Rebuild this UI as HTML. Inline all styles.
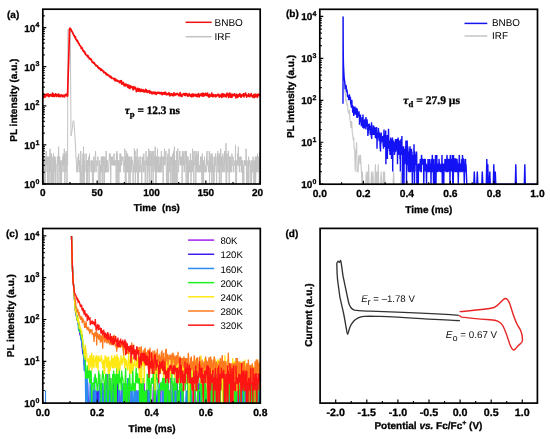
<!DOCTYPE html>
<html><head><meta charset="utf-8"><title>Figure</title>
<style>html,body{margin:0;padding:0;background:#fff;}body{width:550px;height:439px;overflow:hidden;}svg{display:block;}text[font-weight="bold"]{stroke:#000;stroke-width:0.3px;}</style>
</head><body><svg width="550" height="439" viewBox="0 0 550 439" text-rendering="geometricPrecision"><clipPath id="ca"><rect x="42.8" y="9.2" width="217.39999999999998" height="174.8"/></clipPath><path clip-path="url(#ca)" d="M42.8 160.5L43.0 184.0L43.3 160.5L43.5 165.3L43.7 156.7L43.9 184.0L44.2 184.0L44.4 156.7L44.6 184.0L44.9 172.2L45.1 184.0L45.3 165.3L45.5 160.5L45.8 156.7L46.0 172.2L46.2 151.0L46.5 165.3L46.7 156.7L46.9 156.7L47.1 165.3L47.4 156.7L47.6 184.0L47.8 160.5L48.1 184.0L48.3 160.5L48.5 156.7L48.7 160.5L49.0 160.5L49.2 184.0L49.4 156.7L49.6 172.2L49.9 156.7L50.1 148.7L50.3 172.2L50.6 153.6L50.8 165.3L51.0 184.0L51.2 160.5L51.5 153.6L51.7 184.0L51.9 160.5L52.2 156.7L52.4 184.0L52.6 184.0L52.8 172.2L53.1 184.0L53.3 165.3L53.5 153.6L53.8 184.0L54.0 165.3L54.2 172.2L54.4 156.7L54.7 156.7L54.9 165.3L55.1 156.7L55.4 184.0L55.6 160.5L55.8 165.3L56.0 165.3L56.3 165.3L56.5 165.3L56.7 165.3L57.0 172.2L57.2 184.0L57.4 156.7L57.6 160.5L57.9 156.7L58.1 165.3L58.3 160.5L58.6 146.7L58.8 156.7L59.0 184.0L59.2 156.7L59.5 160.5L59.7 156.7L59.9 172.2L60.1 160.5L60.4 165.3L60.6 184.0L60.8 165.3L61.1 160.5L61.3 172.2L61.5 184.0L61.7 172.2L62.0 160.5L62.2 160.5L62.4 160.5L62.7 165.3L62.9 156.7L63.1 172.2L63.3 153.6L63.6 160.5L63.8 160.5L64.0 165.3L64.3 148.7L64.5 156.7L64.7 172.2L64.9 184.0L65.2 153.6L65.4 165.3L65.6 165.3L65.9 172.2L66.1 156.7L66.3 151.0L66.5 156.7L66.8 156.7L67.0 184.0L67.2 153.6L67.6 165.3L67.9 29.4L70.3 29.4L71.0 135.9L71.9 131.5L73.2 120.5L73.9 121.4L74.9 134.9L75.8 153.6L76.9 172.2L77.4 165.3L77.6 172.2L77.8 160.5L78.0 156.7L78.3 165.3L78.5 165.3L78.7 153.6L79.0 165.3L79.2 172.2L79.4 172.2L79.6 160.5L79.9 160.5L80.1 165.3L80.3 184.0L80.6 165.3L80.8 151.0L81.0 165.3L81.2 165.3L81.5 184.0L81.7 172.2L81.9 184.0L82.1 184.0L82.4 172.2L82.6 160.5L82.8 156.7L83.1 153.6L83.3 184.0L83.5 146.7L83.7 184.0L84.0 153.6L84.2 184.0L84.4 160.5L84.7 165.3L84.9 172.2L85.1 165.3L85.3 165.3L85.6 165.3L85.8 165.3L86.0 153.6L86.3 153.6L86.5 184.0L86.7 160.5L86.9 160.5L87.2 184.0L87.4 172.2L87.6 160.5L87.9 172.2L88.1 160.5L88.3 165.3L88.5 165.3L88.8 156.7L89.0 184.0L89.2 184.0L89.5 153.6L89.7 160.5L89.9 160.5L90.1 160.5L90.4 165.3L90.6 165.3L90.8 165.3L91.1 172.2L91.3 172.2L91.5 160.5L91.7 165.3L92.0 165.3L92.2 160.5L92.4 184.0L92.6 184.0L92.9 184.0L93.1 165.3L93.3 184.0L93.6 160.5L93.8 156.7L94.0 160.5L94.2 160.5L94.5 172.2L94.7 172.2L94.9 165.3L95.2 156.7L95.4 153.6L95.6 151.0L95.8 165.3L96.1 172.2L96.3 165.3L96.5 165.3L96.8 165.3L97.0 160.5L97.2 165.3L97.4 160.5L97.7 165.3L97.9 156.7L98.1 160.5L98.4 184.0L98.6 184.0L98.8 184.0L99.0 184.0L99.3 184.0L99.5 160.5L99.7 160.5L100.0 184.0L100.2 184.0L100.4 172.2L100.6 165.3L100.9 165.3L101.1 172.2L101.3 156.7L101.6 172.2L101.8 156.7L102.0 156.7L102.2 184.0L102.5 165.3L102.7 156.7L102.9 184.0L103.2 172.2L103.4 156.7L103.6 165.3L103.8 160.5L104.1 156.7L104.3 172.2L104.5 184.0L104.7 165.3L105.0 156.7L105.2 156.7L105.4 172.2L105.7 160.5L105.9 172.2L106.1 151.0L106.3 156.7L106.6 172.2L106.8 165.3L107.0 172.2L107.3 165.3L107.5 160.5L107.7 160.5L107.9 165.3L108.2 172.2L108.4 172.2L108.6 172.2L108.9 165.3L109.1 160.5L109.3 156.7L109.5 153.6L109.8 160.5L110.0 160.5L110.2 153.6L110.5 165.3L110.7 184.0L110.9 172.2L111.1 156.7L111.4 160.5L111.6 160.5L111.8 165.3L112.1 156.7L112.3 160.5L112.5 156.7L112.7 165.3L113.0 165.3L113.2 165.3L113.4 160.5L113.7 165.3L113.9 156.7L114.1 153.6L114.3 165.3L114.6 160.5L114.8 160.5L115.0 165.3L115.2 165.3L115.5 160.5L115.7 160.5L115.9 160.5L116.2 184.0L116.4 153.6L116.6 165.3L116.8 151.0L117.1 160.5L117.3 153.6L117.5 172.2L117.8 184.0L118.0 160.5L118.2 172.2L118.4 160.5L118.7 172.2L118.9 184.0L119.1 160.5L119.4 165.3L119.6 172.2L119.8 165.3L120.0 153.6L120.3 165.3L120.5 172.2L120.7 153.6L121.0 156.7L121.2 156.7L121.4 165.3L121.6 156.7L121.9 160.5L122.1 160.5L122.3 160.5L122.6 160.5L122.8 156.7L123.0 156.7L123.2 165.3L123.5 165.3L123.7 165.3L123.9 172.2L124.2 160.5L124.4 165.3L124.6 165.3L124.8 148.7L125.1 160.5L125.3 184.0L125.5 156.7L125.7 165.3L126.0 184.0L126.2 151.0L126.4 151.0L126.7 172.2L126.9 156.7L127.1 165.3L127.3 172.2L127.6 153.6L127.8 172.2L128.0 160.5L128.3 156.7L128.5 172.2L128.7 156.7L128.9 184.0L129.2 165.3L129.4 172.2L129.6 156.7L129.9 160.5L130.1 184.0L130.3 160.5L130.5 160.5L130.8 172.2L131.0 156.7L131.2 172.2L131.5 165.3L131.7 156.7L131.9 160.5L132.1 160.5L132.4 165.3L132.6 160.5L132.8 160.5L133.1 184.0L133.3 172.2L133.5 165.3L133.7 165.3L134.0 172.2L134.2 165.3L134.4 148.7L134.7 165.3L134.9 172.2L135.1 151.0L135.3 184.0L135.6 172.2L135.8 165.3L136.0 156.7L136.2 160.5L136.5 172.2L136.7 165.3L136.9 160.5L137.2 148.7L137.4 172.2L137.6 184.0L137.8 184.0L138.1 160.5L138.3 184.0L138.5 172.2L138.8 172.2L139.0 156.7L139.2 165.3L139.4 165.3L139.7 172.2L139.9 172.2L140.1 172.2L140.4 160.5L140.6 160.5L140.8 156.7L141.0 165.3L141.3 172.2L141.5 165.3L141.7 184.0L142.0 165.3L142.2 165.3L142.4 165.3L142.6 156.7L142.9 165.3L143.1 172.2L143.3 172.2L143.6 165.3L143.8 153.6L144.0 172.2L144.2 165.3L144.5 165.3L144.7 165.3L144.9 160.5L145.2 184.0L145.4 184.0L145.6 172.2L145.8 165.3L146.1 151.0L146.3 165.3L146.5 160.5L146.7 165.3L147.0 160.5L147.2 184.0L147.4 172.2L147.7 156.7L147.9 172.2L148.1 160.5L148.3 165.3L148.6 153.6L148.8 148.7L149.0 172.2L149.3 184.0L149.5 153.6L149.7 151.0L149.9 156.7L150.2 165.3L150.4 160.5L150.6 165.3L150.9 151.0L151.1 184.0L151.3 172.2L151.5 160.5L151.8 153.6L152.0 172.2L152.2 151.0L152.5 153.6L152.7 156.7L152.9 156.7L153.1 184.0L153.4 160.5L153.6 156.7L153.8 151.0L154.1 165.3L154.3 160.5L154.5 156.7L154.7 165.3L155.0 172.2L155.2 146.7L155.4 153.6L155.7 184.0L155.9 172.2L156.1 184.0L156.3 156.7L156.6 172.2L156.8 156.7L157.0 165.3L157.3 160.5L157.5 148.7L157.7 172.2L157.9 172.2L158.2 172.2L158.4 160.5L158.6 172.2L158.8 156.7L159.1 172.2L159.3 172.2L159.5 165.3L159.8 165.3L160.0 172.2L160.2 156.7L160.4 172.2L160.7 172.2L160.9 160.5L161.1 165.3L161.4 151.0L161.6 165.3L161.8 172.2L162.0 160.5L162.3 156.7L162.5 156.7L162.7 160.5L163.0 172.2L163.2 184.0L163.4 160.5L163.6 156.7L163.9 165.3L164.1 165.3L164.3 153.6L164.6 148.7L164.8 165.3L165.0 160.5L165.2 160.5L165.5 160.5L165.7 156.7L165.9 151.0L166.2 165.3L166.4 172.2L166.6 184.0L166.8 172.2L167.1 172.2L167.3 156.7L167.5 160.5L167.8 184.0L168.0 153.6L168.2 172.2L168.4 184.0L168.7 184.0L168.9 160.5L169.1 148.7L169.3 156.7L169.6 172.2L169.8 172.2L170.0 172.2L170.3 156.7L170.5 160.5L170.7 165.3L170.9 184.0L171.2 165.3L171.4 165.3L171.6 156.7L171.9 156.7L172.1 160.5L172.3 184.0L172.5 165.3L172.8 153.6L173.0 172.2L173.2 184.0L173.5 165.3L173.7 151.0L173.9 172.2L174.1 172.2L174.4 146.7L174.6 184.0L174.8 172.2L175.1 184.0L175.3 172.2L175.5 160.5L175.7 165.3L176.0 160.5L176.2 184.0L176.4 156.7L176.7 151.0L176.9 160.5L177.1 184.0L177.3 160.5L177.6 160.5L177.8 148.7L178.0 160.5L178.3 160.5L178.5 172.2L178.7 165.3L178.9 165.3L179.2 160.5L179.4 160.5L179.6 153.6L179.8 151.0L180.1 156.7L180.3 165.3L180.5 165.3L180.8 156.7L181.0 160.5L181.2 160.5L181.4 165.3L181.7 156.7L181.9 156.7L182.1 184.0L182.4 151.0L182.6 165.3L182.8 153.6L183.0 156.7L183.3 153.6L183.5 165.3L183.7 165.3L184.0 151.0L184.2 172.2L184.4 165.3L184.6 160.5L184.9 160.5L185.1 160.5L185.3 151.0L185.6 160.5L185.8 165.3L186.0 172.2L186.2 184.0L186.5 151.0L186.7 160.5L186.9 172.2L187.2 156.7L187.4 160.5L187.6 184.0L187.8 156.7L188.1 156.7L188.3 184.0L188.5 172.2L188.8 165.3L189.0 172.2L189.2 160.5L189.4 165.3L189.7 172.2L189.9 160.5L190.1 172.2L190.3 153.6L190.6 153.6L190.8 165.3L191.0 184.0L191.3 165.3L191.5 160.5L191.7 165.3L191.9 172.2L192.2 160.5L192.4 160.5L192.6 148.7L192.9 172.2L193.1 151.0L193.3 165.3L193.5 160.5L193.8 184.0L194.0 165.3L194.2 165.3L194.5 165.3L194.7 160.5L194.9 151.0L195.1 160.5L195.4 156.7L195.6 165.3L195.8 184.0L196.1 165.3L196.3 151.0L196.5 165.3L196.7 165.3L197.0 172.2L197.2 153.6L197.4 156.7L197.7 172.2L197.9 156.7L198.1 156.7L198.3 151.0L198.6 160.5L198.8 172.2L199.0 165.3L199.3 165.3L199.5 172.2L199.7 165.3L199.9 172.2L200.2 165.3L200.4 160.5L200.6 156.7L200.8 172.2L201.1 165.3L201.3 156.7L201.5 160.5L201.8 165.3L202.0 184.0L202.2 156.7L202.4 153.6L202.7 184.0L202.9 165.3L203.1 172.2L203.4 160.5L203.6 184.0L203.8 165.3L204.0 172.2L204.3 165.3L204.5 156.7L204.7 160.5L205.0 165.3L205.2 172.2L205.4 172.2L205.6 172.2L205.9 165.3L206.1 172.2L206.3 165.3L206.6 156.7L206.8 160.5L207.0 151.0L207.2 165.3L207.5 165.3L207.7 160.5L207.9 160.5L208.2 160.5L208.4 172.2L208.6 172.2L208.8 165.3L209.1 165.3L209.3 151.0L209.5 184.0L209.8 160.5L210.0 160.5L210.2 160.5L210.4 156.7L210.7 172.2L210.9 153.6L211.1 153.6L211.4 165.3L211.6 172.2L211.8 184.0L212.0 153.6L212.3 172.2L212.5 160.5L212.7 165.3L212.9 156.7L213.2 184.0L213.4 165.3L213.6 165.3L213.9 184.0L214.1 184.0L214.3 172.2L214.5 172.2L214.8 156.7L215.0 165.3L215.2 160.5L215.5 165.3L215.7 153.6L215.9 165.3L216.1 172.2L216.4 172.2L216.6 184.0L216.8 165.3L217.1 156.7L217.3 156.7L217.5 165.3L217.7 151.0L218.0 172.2L218.2 156.7L218.4 156.7L218.7 172.2L218.9 172.2L219.1 153.6L219.3 184.0L219.6 172.2L219.8 153.6L220.0 172.2L220.3 160.5L220.5 165.3L220.7 148.7L220.9 184.0L221.2 184.0L221.4 165.3L221.6 156.7L221.9 165.3L222.1 160.5L222.3 156.7L222.5 172.2L222.8 153.6L223.0 160.5L223.2 172.2L223.4 165.3L223.7 165.3L223.9 160.5L224.1 156.7L224.4 165.3L224.6 151.0L224.8 172.2L225.0 165.3L225.3 151.0L225.5 160.5L225.7 156.7L226.0 143.3L226.2 184.0L226.4 156.7L226.6 184.0L226.9 156.7L227.1 153.6L227.3 160.5L227.6 172.2L227.8 172.2L228.0 172.2L228.2 151.0L228.5 151.0L228.7 160.5L228.9 165.3L229.2 184.0L229.4 156.7L229.6 165.3L229.8 165.3L230.1 172.2L230.3 156.7L230.5 172.2L230.8 160.5L231.0 165.3L231.2 172.2L231.4 165.3L231.7 165.3L231.9 153.6L232.1 160.5L232.4 165.3L232.6 165.3L232.8 165.3L233.0 156.7L233.3 172.2L233.5 165.3L233.7 165.3L233.9 165.3L234.2 165.3L234.4 165.3L234.6 165.3L234.9 160.5L235.1 160.5L235.3 172.2L235.5 144.9L235.8 184.0L236.0 160.5L236.2 172.2L236.5 184.0L236.7 172.2L236.9 165.3L237.1 160.5L237.4 165.3L237.6 153.6L237.8 156.7L238.1 165.3L238.3 146.7L238.5 156.7L238.7 165.3L239.0 160.5L239.2 165.3L239.4 172.2L239.7 156.7L239.9 160.5L240.1 160.5L240.3 165.3L240.6 156.7L240.8 165.3L241.0 156.7L241.3 172.2L241.5 165.3L241.7 172.2L241.9 160.5L242.2 172.2L242.4 160.5L242.6 184.0L242.9 172.2L243.1 165.3L243.3 172.2L243.5 165.3L243.8 184.0L244.0 160.5L244.2 160.5L244.4 160.5L244.7 165.3L244.9 160.5L245.1 165.3L245.4 165.3L245.6 160.5L245.8 165.3L246.0 148.7L246.3 151.0L246.5 184.0L246.7 172.2L247.0 160.5L247.2 160.5L247.4 165.3L247.6 165.3L247.9 184.0L248.1 172.2L248.3 184.0L248.6 156.7L248.8 160.5L249.0 160.5L249.2 160.5L249.5 165.3L249.7 160.5L249.9 165.3L250.2 184.0L250.4 165.3L250.6 172.2L250.8 172.2L251.1 160.5L251.3 160.5L251.5 184.0L251.8 172.2L252.0 172.2L252.2 160.5L252.4 172.2L252.7 172.2L252.9 165.3L253.1 156.7L253.4 160.5L253.6 165.3L253.8 184.0L254.0 184.0L254.3 165.3L254.5 184.0L254.7 160.5L254.9 184.0L255.2 165.3L255.4 156.7L255.6 184.0L255.9 172.2L256.1 156.7L256.3 165.3L256.5 172.2L256.8 156.7L257.0 160.5L257.2 165.3L257.5 153.6L257.7 160.5L257.9 172.2L258.1 156.7L258.4 165.3L258.6 172.2L258.8 160.5L259.1 156.7L259.3 184.0L259.5 160.5L259.7 165.3L260.0 151.0L260.2 165.3L260.4 165.3L260.7 172.2" stroke="#c2c2c2" stroke-width="1.0" fill="none" stroke-linejoin="miter"/><path clip-path="url(#ca)" d="M42.8 94.7L43.1 95.6L43.5 97.6L43.8 94.7L44.1 94.6L44.4 96.2L44.8 97.2L45.1 96.4L45.4 94.5L45.7 96.4L46.1 95.8L46.4 95.1L46.7 94.2L47.0 95.4L47.4 95.4L47.7 95.9L48.0 93.8L48.3 94.4L48.7 95.4L49.0 96.7L49.3 96.1L49.6 94.8L50.0 96.0L50.3 94.5L50.6 95.0L51.0 95.1L51.3 94.7L51.6 94.9L51.9 96.2L52.3 95.7L52.6 93.2L52.9 96.5L53.2 95.8L53.6 94.4L53.9 95.5L54.2 96.1L54.5 96.6L54.9 94.9L55.2 94.4L55.5 94.0L55.8 95.3L56.2 94.4L56.5 96.3L56.8 95.2L57.1 96.0L57.5 95.2L57.8 94.6L58.1 94.3L58.5 96.3L58.8 94.2L59.1 95.8L59.4 96.3L59.8 95.5L60.1 96.7L60.4 95.3L60.7 95.1L61.1 95.5L61.4 94.9L61.7 95.6L62.0 95.3L62.4 96.7L62.7 95.3L63.0 96.2L63.3 95.8L63.7 95.4L64.0 95.2L64.3 96.9L64.6 96.8L65.0 95.6L65.3 94.9L65.6 95.0L66.0 94.5L66.3 94.1L66.6 94.9L66.9 95.4L67.3 96.3L67.6 95.4L67.9 84.5L68.2 73.6L68.6 62.8L68.9 51.9L69.2 41.0L69.5 30.2L69.9 28.2L70.2 28.5L70.5 28.9L70.8 29.2L71.2 29.9L71.5 30.6L71.8 31.3L72.1 31.6L72.5 32.4L72.8 33.0L73.1 33.6L73.5 34.6L73.8 35.5L74.1 35.4L74.4 36.0L74.8 36.9L75.1 37.6L75.4 36.9L75.7 38.9L76.1 39.2L76.4 39.5L76.7 40.8L77.0 40.7L77.4 40.5L77.7 41.5L78.0 42.1L78.3 42.7L78.7 43.5L79.0 43.6L79.3 44.6L79.6 45.3L80.0 45.5L80.3 45.7L80.6 46.4L81.0 46.8L81.3 48.5L81.6 47.5L81.9 47.5L82.3 48.4L82.6 49.7L82.9 50.4L83.2 50.3L83.6 51.4L83.9 51.0L84.2 52.1L84.5 51.8L84.9 52.1L85.2 54.1L85.5 53.4L85.8 54.3L86.2 55.1L86.5 55.1L86.8 55.3L87.1 55.2L87.5 56.8L87.8 56.0L88.1 55.9L88.5 57.0L88.8 57.4L89.1 58.0L89.4 59.0L89.8 58.5L90.1 59.0L90.4 59.2L90.7 58.7L91.1 59.9L91.4 60.4L91.7 60.2L92.0 61.9L92.4 62.2L92.7 62.2L93.0 62.7L93.3 62.4L93.7 63.2L94.0 62.5L94.3 63.0L94.6 63.6L95.0 64.5L95.3 64.4L95.6 64.6L96.0 65.8L96.3 65.4L96.6 65.6L96.9 66.1L97.3 65.8L97.6 66.2L97.9 67.5L98.2 67.3L98.6 68.1L98.9 67.7L99.2 68.7L99.5 68.1L99.9 68.6L100.2 68.6L100.5 69.4L100.8 70.3L101.2 69.1L101.5 70.3L101.8 69.8L102.2 70.5L102.5 70.6L102.8 70.4L103.1 71.3L103.5 71.1L103.8 72.7L104.1 71.8L104.4 72.6L104.8 72.8L105.1 73.0L105.4 73.1L105.7 72.7L106.1 74.6L106.4 73.9L106.7 74.5L107.0 73.9L107.4 74.8L107.7 74.7L108.0 75.3L108.3 75.0L108.7 75.1L109.0 76.0L109.3 76.0L109.7 76.9L110.0 76.3L110.3 76.2L110.6 77.1L111.0 76.5L111.3 78.2L111.6 78.3L111.9 78.3L112.3 78.1L112.6 78.1L112.9 78.3L113.2 78.5L113.6 78.3L113.9 79.1L114.2 79.7L114.5 79.9L114.9 78.5L115.2 80.8L115.5 79.9L115.8 79.3L116.2 80.0L116.5 80.8L116.8 80.6L117.2 80.3L117.5 80.4L117.8 81.5L118.1 80.9L118.5 81.3L118.8 81.1L119.1 81.1L119.4 82.1L119.8 82.8L120.1 81.9L120.4 80.8L120.7 82.0L121.1 82.6L121.4 80.7L121.7 84.1L122.0 82.4L122.4 83.9L122.7 83.5L123.0 83.6L123.3 82.4L123.7 84.9L124.0 84.7L124.3 85.8L124.7 84.0L125.0 85.0L125.3 84.3L125.6 85.9L126.0 85.4L126.3 84.2L126.6 85.5L126.9 84.8L127.3 85.1L127.6 86.0L127.9 87.3L128.2 85.0L128.6 85.9L128.9 85.3L129.2 88.2L129.5 88.0L129.9 88.6L130.2 87.5L130.5 85.9L130.8 86.4L131.2 87.1L131.5 87.1L131.8 86.6L132.2 87.7L132.5 87.2L132.8 87.5L133.1 89.8L133.5 88.2L133.8 86.7L134.1 88.4L134.4 88.3L134.8 88.8L135.1 88.8L135.4 87.4L135.7 88.8L136.1 89.6L136.4 91.7L136.7 89.4L137.0 90.8L137.4 90.8L137.7 88.4L138.0 88.6L138.3 91.1L138.7 88.6L139.0 89.1L139.3 90.3L139.7 89.0L140.0 91.3L140.3 91.0L140.6 91.3L141.0 91.1L141.3 89.3L141.6 91.4L141.9 91.3L142.3 91.2L142.6 90.2L142.9 90.8L143.2 89.7L143.6 91.3L143.9 91.9L144.2 91.2L144.5 90.8L144.9 91.8L145.2 90.7L145.5 89.4L145.8 91.7L146.2 91.1L146.5 90.0L146.8 91.9L147.2 92.2L147.5 92.5L147.8 91.1L148.1 91.1L148.5 91.8L148.8 91.7L149.1 90.6L149.4 91.0L149.8 93.2L150.1 91.9L150.4 91.9L150.7 91.4L151.1 92.3L151.4 92.7L151.7 92.6L152.0 93.9L152.4 92.3L152.7 92.9L153.0 92.0L153.3 93.4L153.7 92.9L154.0 93.5L154.3 93.6L154.7 92.0L155.0 93.1L155.3 92.3L155.6 93.8L156.0 92.7L156.3 94.4L156.6 93.3L156.9 93.4L157.3 92.4L157.6 92.8L157.9 93.2L158.2 92.3L158.6 93.0L158.9 92.7L159.2 92.5L159.5 93.3L159.9 93.6L160.2 93.0L160.5 93.7L160.8 93.0L161.2 92.4L161.5 92.6L161.8 93.8L162.2 94.7L162.5 93.6L162.8 93.7L163.1 92.6L163.5 94.0L163.8 93.9L164.1 93.0L164.4 94.2L164.8 93.9L165.1 92.2L165.4 92.4L165.7 93.2L166.1 93.6L166.4 94.8L166.7 93.4L167.0 93.9L167.4 93.8L167.7 94.5L168.0 94.0L168.3 94.2L168.7 93.8L169.0 92.7L169.3 93.8L169.7 95.7L170.0 95.1L170.3 95.6L170.6 94.9L171.0 93.7L171.3 93.9L171.6 94.8L171.9 94.0L172.3 95.0L172.6 95.6L172.9 95.6L173.2 95.1L173.6 93.0L173.9 95.6L174.2 93.2L174.5 93.2L174.9 94.6L175.2 94.5L175.5 95.0L175.8 94.5L176.2 93.9L176.5 94.5L176.8 93.6L177.2 93.4L177.5 94.2L177.8 94.3L178.1 94.6L178.5 94.3L178.8 95.7L179.1 94.2L179.4 94.4L179.8 95.5L180.1 92.6L180.4 95.6L180.7 95.5L181.1 94.4L181.4 96.5L181.7 95.5L182.0 96.2L182.4 95.7L182.7 94.9L183.0 94.5L183.3 93.7L183.7 94.0L184.0 93.7L184.3 94.3L184.7 95.3L185.0 93.8L185.3 95.3L185.6 95.4L186.0 93.4L186.3 94.1L186.6 94.7L186.9 94.2L187.3 94.1L187.6 96.2L187.9 95.0L188.2 96.0L188.6 94.8L188.9 95.6L189.2 93.7L189.5 94.5L189.9 95.7L190.2 95.0L190.5 96.1L190.8 95.0L191.2 94.5L191.5 94.8L191.8 96.8L192.2 95.3L192.5 94.5L192.8 94.7L193.1 94.0L193.5 96.3L193.8 94.6L194.1 95.7L194.4 94.9L194.8 94.7L195.1 94.4L195.4 95.6L195.7 94.9L196.1 96.2L196.4 96.4L196.7 94.6L197.0 95.2L197.4 96.6L197.7 95.9L198.0 95.1L198.3 93.7L198.7 94.2L199.0 94.4L199.3 96.8L199.7 95.2L200.0 94.7L200.3 94.8L200.6 94.8L201.0 95.4L201.3 93.5L201.6 93.8L201.9 95.3L202.3 96.1L202.6 93.3L202.9 95.7L203.2 94.1L203.6 93.4L203.9 96.1L204.2 94.9L204.5 95.5L204.9 94.7L205.2 94.9L205.5 93.4L205.8 94.7L206.2 95.2L206.5 94.2L206.8 95.5L207.2 95.6L207.5 93.1L207.8 96.0L208.1 95.7L208.5 95.2L208.8 96.2L209.1 97.2L209.4 94.3L209.8 96.0L210.1 95.8L210.4 95.6L210.7 96.2L211.1 96.3L211.4 95.1L211.7 93.0L212.0 94.6L212.4 94.6L212.7 96.7L213.0 95.3L213.4 96.4L213.7 94.6L214.0 95.5L214.3 95.3L214.7 95.4L215.0 95.8L215.3 96.7L215.6 94.8L216.0 96.6L216.3 96.4L216.6 95.6L216.9 96.0L217.3 95.1L217.6 94.4L217.9 95.1L218.2 95.1L218.6 95.3L218.9 94.5L219.2 97.1L219.5 95.0L219.9 96.2L220.2 96.5L220.5 95.3L220.9 95.7L221.2 94.8L221.5 94.3L221.8 97.5L222.2 95.4L222.5 93.5L222.8 94.5L223.1 94.0L223.5 95.2L223.8 96.7L224.1 96.4L224.4 94.7L224.8 94.4L225.1 96.0L225.4 95.6L225.7 95.1L226.1 97.0L226.4 95.7L226.7 93.8L227.0 93.3L227.4 95.5L227.7 93.6L228.0 95.8L228.4 96.1L228.7 97.5L229.0 94.5L229.3 95.7L229.7 93.2L230.0 95.0L230.3 95.2L230.6 97.1L231.0 94.0L231.3 95.7L231.6 95.5L231.9 97.4L232.3 94.5L232.6 94.4L232.9 95.9L233.2 95.3L233.6 95.0L233.9 94.5L234.2 95.3L234.5 93.8L234.9 95.6L235.2 95.9L235.5 95.8L235.9 97.8L236.2 96.1L236.5 94.4L236.8 95.1L237.2 96.1L237.5 95.0L237.8 97.3L238.1 95.6L238.5 94.9L238.8 94.7L239.1 96.1L239.4 94.5L239.8 93.6L240.1 95.8L240.4 94.7L240.7 96.8L241.1 97.2L241.4 94.8L241.7 95.3L242.0 95.2L242.4 95.9L242.7 95.7L243.0 94.6L243.4 93.8L243.7 95.6L244.0 96.9L244.3 94.2L244.7 94.8L245.0 94.7L245.3 95.2L245.6 93.2L246.0 95.3L246.3 94.9L246.6 97.1L246.9 95.9L247.3 96.0L247.6 95.4L247.9 95.1L248.2 96.1L248.6 93.8L248.9 96.4L249.2 95.8L249.5 95.2L249.9 96.6L250.2 94.8L250.5 94.8L250.9 95.7L251.2 93.6L251.5 95.3L251.8 95.1L252.2 96.3L252.5 97.0L252.8 96.0L253.1 95.7L253.5 95.8L253.8 94.7L254.1 97.6L254.4 96.5L254.8 97.1L255.1 94.1L255.4 95.9L255.7 95.9L256.1 96.4L256.4 94.5L256.7 95.8L257.0 95.2L257.4 97.3L257.7 94.3L258.0 95.0L258.4 94.9L258.7 94.2L259.0 95.6L259.3 95.5L259.7 94.7L260.0 95.0" stroke="#f80c0c" stroke-width="1.7" fill="none" stroke-linejoin="round"/><rect x="42.8" y="9.2" width="217.39999999999998" height="174.8" fill="none" stroke="#000" stroke-width="1.7"/><path d="M42.80 184.0v-3.5M97.15 184.0v-3.5M151.50 184.0v-3.5M205.85 184.0v-3.5M260.20 184.0v-3.5M69.97 184.0v-2.0M124.32 184.0v-2.0M178.68 184.0v-2.0M233.02 184.0v-2.0" stroke="#000" stroke-width="1.2" fill="none"/><path d="M42.8 184.00h3.5M42.8 144.90h3.5M42.8 105.80h3.5M42.8 66.70h3.5M42.8 27.60h3.5M42.8 172.23h2.0M42.8 165.34h2.0M42.8 160.46h2.0M42.8 156.67h2.0M42.8 153.57h2.0M42.8 150.96h2.0M42.8 148.69h2.0M42.8 146.69h2.0M42.8 133.13h2.0M42.8 126.24h2.0M42.8 121.36h2.0M42.8 117.57h2.0M42.8 114.47h2.0M42.8 111.86h2.0M42.8 109.59h2.0M42.8 107.59h2.0M42.8 94.03h2.0M42.8 87.14h2.0M42.8 82.26h2.0M42.8 78.47h2.0M42.8 75.37h2.0M42.8 72.76h2.0M42.8 70.49h2.0M42.8 68.49h2.0M42.8 54.93h2.0M42.8 48.04h2.0M42.8 43.16h2.0M42.8 39.37h2.0M42.8 36.27h2.0M42.8 33.66h2.0M42.8 31.39h2.0M42.8 29.39h2.0M42.8 15.83h2.0" stroke="#000" stroke-width="1.2" fill="none"/><text x="42.80" y="195.60" font-family="'Liberation Sans', Arial, sans-serif" font-size="10" font-weight="bold" text-anchor="middle" fill="#000">0</text><text x="97.15" y="195.60" font-family="'Liberation Sans', Arial, sans-serif" font-size="10" font-weight="bold" text-anchor="middle" fill="#000">50</text><text x="151.50" y="195.60" font-family="'Liberation Sans', Arial, sans-serif" font-size="10" font-weight="bold" text-anchor="middle" fill="#000">100</text><text x="205.85" y="195.60" font-family="'Liberation Sans', Arial, sans-serif" font-size="10" font-weight="bold" text-anchor="middle" fill="#000">150</text><text x="257.60" y="195.60" font-family="'Liberation Sans', Arial, sans-serif" font-size="10" font-weight="bold" text-anchor="middle" fill="#000">20</text><text x="35.40" y="187.90" font-family="'Liberation Sans', Arial, sans-serif" font-size="10" font-weight="bold" text-anchor="end" fill="#000">10</text><text x="35.50" y="183.60" font-family="'Liberation Sans', Arial, sans-serif" font-size="7" font-weight="bold" text-anchor="start" fill="#000">0</text><text x="35.40" y="148.80" font-family="'Liberation Sans', Arial, sans-serif" font-size="10" font-weight="bold" text-anchor="end" fill="#000">10</text><text x="35.50" y="144.50" font-family="'Liberation Sans', Arial, sans-serif" font-size="7" font-weight="bold" text-anchor="start" fill="#000">1</text><text x="35.40" y="109.70" font-family="'Liberation Sans', Arial, sans-serif" font-size="10" font-weight="bold" text-anchor="end" fill="#000">10</text><text x="35.50" y="105.40" font-family="'Liberation Sans', Arial, sans-serif" font-size="7" font-weight="bold" text-anchor="start" fill="#000">2</text><text x="35.40" y="70.60" font-family="'Liberation Sans', Arial, sans-serif" font-size="10" font-weight="bold" text-anchor="end" fill="#000">10</text><text x="35.50" y="66.30" font-family="'Liberation Sans', Arial, sans-serif" font-size="7" font-weight="bold" text-anchor="start" fill="#000">3</text><text x="35.40" y="31.50" font-family="'Liberation Sans', Arial, sans-serif" font-size="10" font-weight="bold" text-anchor="end" fill="#000">10</text><text x="35.50" y="27.20" font-family="'Liberation Sans', Arial, sans-serif" font-size="7" font-weight="bold" text-anchor="start" fill="#000">4</text><text x="7.00" y="18.00" font-family="'Liberation Sans', Arial, sans-serif" font-size="10" font-weight="bold" text-anchor="start" fill="#000">(a)</text><text x="133.80" y="211.20" font-family="'Liberation Sans', Arial, sans-serif" font-size="9.8" font-weight="bold" text-anchor="start" fill="#000">Time&#160;&#160;(ns)</text><text transform="translate(17.1 100.2) rotate(-90)" font-family="'Liberation Sans', Arial, sans-serif" font-size="10" font-weight="bold" text-anchor="middle">PL intensity (a.u.)</text><path d="M185.5 22.3H211.7" stroke="#ee1111" stroke-width="1.5"/><path d="M185.5 36.7H211.7" stroke="#c3c3c3" stroke-width="1.5"/><text x="214.50" y="26.40" font-family="'Liberation Sans', Arial, sans-serif" font-size="10" font-weight="normal" text-anchor="start" fill="#000">BNBO</text><text x="214.50" y="40.30" font-family="'Liberation Sans', Arial, sans-serif" font-size="10" font-weight="normal" text-anchor="start" fill="#000">IRF</text><text x="124.8" y="114.2" font-family="'Liberation Serif', 'Times New Roman', serif" font-size="11.3" font-weight="bold"><tspan font-style="italic">τ</tspan><tspan font-size="8.6" dy="3.2">p</tspan><tspan dy="-3.2"> = 12.3 ns</tspan></text><clipPath id="cb"><rect x="319.8" y="9.3" width="217.7" height="174.89999999999998"/></clipPath><path clip-path="url(#cb)" d="M343.1 16.4L343.2 42.8L343.7 65.9L344.2 74.8L344.6 84.1L345.1 92.9L345.6 95.4L346.1 101.6L346.6 99.9L347.0 105.8L347.5 103.9L348.0 111.2L348.5 112.2L349.0 114.1L349.4 109.9L349.9 119.4L350.4 122.2L350.9 127.9L351.4 121.1L351.8 122.9L352.3 133.7L352.8 134.9L353.3 140.5L353.8 137.5L354.2 148.7L354.7 148.7L355.2 171.6L355.7 151.6L356.2 151.6L356.6 142.2L357.1 171.6L357.6 171.6L358.1 171.6L358.6 158.9L359.0 154.9L359.5 158.9L360.0 164.2L360.5 154.9L361.0 164.2L361.4 171.6L361.9 184.2L362.4 171.6L362.9 184.2L363.4 184.2L363.8 184.2L364.3 184.2L364.8 184.2L365.3 184.2L365.8 184.2L366.2 171.6L366.7 184.2L367.2 184.2L367.7 171.6L368.2 184.2L368.6 164.2L369.1 184.2L369.6 184.2L370.1 184.2L370.6 184.2L371.0 184.2L371.5 171.6L372.0 184.2L372.5 184.2L373.0 171.6L373.4 184.2L373.9 184.2L374.4 184.2L374.9 184.2L375.4 164.2L375.8 184.2L376.3 184.2L376.8 171.6L377.3 184.2L377.8 184.2L378.2 164.2L378.7 184.2L379.2 184.2L379.7 184.2L380.2 184.2L380.6 184.2L381.1 171.6L381.6 184.2L382.1 184.2L382.6 184.2L383.0 184.2L383.5 171.6L384.0 184.2L384.5 171.6L385.0 184.2L385.4 184.2L385.9 184.2L386.4 184.2L386.9 184.2L387.4 184.2L387.8 184.2L388.3 184.2L388.8 184.2L389.3 184.2L389.8 184.2L390.2 184.2L390.7 184.2L391.2 184.2L391.7 184.2L392.2 184.2L392.6 184.2L393.1 184.2L393.6 171.6L394.1 184.2L394.6 184.2L395.0 184.2L395.5 184.2L396.0 184.2L396.5 184.2L397.0 184.2L397.4 184.2L397.9 184.2L398.4 184.2L398.9 184.2L399.4 184.2L399.8 184.2L400.3 184.2L400.8 184.2L401.3 171.6L401.8 184.2L402.2 184.2L402.7 184.2L403.2 184.2L403.7 184.2L404.2 184.2L404.6 184.2L405.1 184.2L405.6 184.2L406.1 184.2L406.6 184.2L407.0 184.2L407.5 184.2L408.0 184.2L408.5 184.2L409.0 184.2L409.4 184.2L409.9 184.2L410.4 184.2L410.9 184.2L411.4 184.2L411.8 184.2L412.3 184.2L412.8 184.2L413.3 184.2L413.8 184.2L414.2 184.2L414.7 184.2L415.2 184.2L415.7 184.2L416.2 184.2L416.6 184.2L417.1 184.2L417.6 184.2" stroke="#c6c6c6" stroke-width="1.1" fill="none"/><path clip-path="url(#cb)" d="M343.0 103.7L343.1 16.4L343.2 44.1L343.4 63.0L343.5 66.7L343.7 71.0L343.9 75.1L344.0 75.7L344.2 77.9L344.4 79.3L344.5 80.5L344.7 81.0L344.9 84.6L345.0 83.8L345.2 88.3L345.4 88.2L345.5 84.7L345.7 87.2L345.9 89.3L346.0 86.5L346.2 86.4L346.4 90.5L346.5 90.4L346.7 90.2L346.9 92.2L347.0 92.3L347.2 91.9L347.4 93.4L347.5 96.1L347.7 96.4L347.9 95.9L348.0 95.9L348.2 95.9L348.4 96.4L348.5 97.4L348.7 100.1L348.9 98.7L349.0 99.1L349.2 97.1L349.4 94.2L349.5 96.5L349.7 96.5L349.9 97.1L350.0 98.1L350.2 99.9L350.4 97.1L350.5 100.1L350.7 103.7L350.9 104.1L351.0 103.5L351.2 105.1L351.4 107.6L351.5 104.6L351.7 99.9L351.9 100.5L352.0 106.5L352.2 107.1L352.4 105.3L352.5 107.1L352.7 112.6L352.9 107.9L353.0 110.2L353.2 106.8L353.4 107.1L353.5 107.3L353.7 116.1L353.9 108.7L354.0 108.4L354.2 111.2L354.4 112.6L354.5 108.1L354.7 112.9L354.9 106.5L355.0 111.2L355.2 114.8L355.4 107.9L355.5 109.6L355.7 111.9L355.9 109.0L356.0 109.9L356.2 109.6L356.4 110.9L356.5 109.0L356.7 114.4L356.9 117.9L357.0 116.1L357.2 109.3L357.4 109.6L357.5 117.5L357.7 116.5L357.9 115.7L358.0 112.2L358.2 114.4L358.4 115.7L358.5 112.6L358.7 115.3L358.9 116.1L359.0 111.2L359.2 115.3L359.4 114.4L359.5 124.8L359.7 117.5L359.9 114.4L360.0 117.5L360.2 118.4L360.4 120.5L360.5 114.4L360.7 122.2L360.9 121.1L361.0 120.0L361.2 119.4L361.4 126.3L361.5 125.6L361.7 120.5L361.9 122.9L362.0 124.2L362.2 117.0L362.4 121.1L362.5 125.6L362.7 117.5L362.9 127.9L363.0 114.4L363.2 123.5L363.4 126.3L363.5 121.6L363.7 120.0L363.9 128.7L364.0 127.1L364.2 121.1L364.4 122.9L364.5 126.3L364.7 127.1L364.9 121.6L365.0 118.9L365.2 127.9L365.4 121.6L365.5 119.4L365.7 122.9L365.9 129.6L366.0 117.0L366.2 125.6L366.4 124.2L366.5 122.2L366.7 125.6L366.9 125.6L367.0 119.4L367.2 121.1L367.4 127.1L367.5 126.3L367.7 128.7L367.9 136.1L368.0 128.7L368.2 133.7L368.4 124.2L368.5 125.6L368.7 124.2L368.9 127.9L369.0 129.6L369.2 123.5L369.4 128.7L369.5 125.6L369.7 128.7L369.9 130.6L370.0 127.9L370.2 133.7L370.4 134.9L370.5 128.7L370.7 129.6L370.9 133.7L371.0 125.6L371.2 130.6L371.4 137.5L371.5 122.2L371.7 138.9L371.9 127.9L372.0 124.8L372.2 129.6L372.4 129.6L372.5 130.6L372.7 127.9L372.9 134.9L373.0 131.5L373.2 130.6L373.4 128.7L373.5 134.9L373.7 125.6L373.9 128.7L374.0 134.9L374.2 128.7L374.4 132.6L374.5 133.7L374.7 127.1L374.9 132.6L375.0 133.7L375.2 133.7L375.4 137.5L375.5 137.5L375.7 127.9L375.9 128.7L376.0 132.6L376.2 133.7L376.4 133.7L376.5 127.1L376.7 138.9L376.9 132.6L377.0 148.7L377.2 138.9L377.4 133.7L377.5 137.5L377.7 134.9L377.9 134.9L378.0 137.5L378.2 132.6L378.4 127.9L378.5 137.5L378.7 130.6L378.9 138.9L379.0 138.9L379.2 140.5L379.4 140.5L379.5 132.6L379.7 134.9L379.9 136.1L380.0 140.5L380.2 148.7L380.4 137.5L380.5 151.6L380.7 138.9L380.9 144.2L381.0 136.1L381.2 132.6L381.4 136.1L381.5 137.5L381.7 138.9L381.9 138.9L382.0 137.5L382.2 140.5L382.4 142.2L382.5 137.5L382.7 137.5L382.9 136.1L383.0 138.9L383.2 146.3L383.4 142.2L383.5 148.7L383.7 136.1L383.9 134.9L384.0 129.6L384.2 137.5L384.4 136.1L384.5 144.2L384.7 146.3L384.9 146.3L385.0 140.5L385.2 140.5L385.4 146.3L385.5 136.1L385.7 130.6L385.9 164.2L386.0 151.6L386.2 142.2L386.4 144.2L386.5 158.9L386.7 142.2L386.9 146.3L387.0 144.2L387.2 134.9L387.4 158.9L387.5 136.1L387.7 142.2L387.9 148.7L388.0 136.1L388.2 148.7L388.4 146.3L388.5 128.7L388.7 137.5L388.9 144.2L389.0 140.5L389.2 144.2L389.4 148.7L389.5 151.6L389.7 148.7L389.9 140.5L390.0 154.9L390.2 151.6L390.4 142.2L390.5 148.7L390.7 137.5L390.9 146.3L391.0 142.2L391.2 138.9L391.4 146.3L391.5 158.9L391.7 144.2L391.9 151.6L392.0 148.7L392.2 158.9L392.4 144.2L392.5 137.5L392.7 171.6L392.9 146.3L393.0 146.3L393.2 144.2L393.4 144.2L393.5 140.5L393.7 142.2L393.9 144.2L394.0 151.6L394.2 148.7L394.4 142.2L394.5 154.9L394.7 151.6L394.9 151.6L395.0 144.2L395.2 151.6L395.4 148.7L395.5 138.9L395.7 151.6L395.9 148.7L396.0 142.2L396.2 148.7L396.4 146.3L396.5 142.2L396.7 146.3L396.9 138.9L397.0 144.2L397.2 148.7L397.4 151.6L397.5 164.2L397.7 146.3L397.9 142.2L398.0 137.5L398.2 148.7L398.4 138.9L398.5 154.9L398.7 151.6L398.9 146.3L399.0 148.7L399.2 142.2L399.4 140.5L399.5 148.7L399.7 142.2L399.9 140.5L400.0 158.9L400.2 144.2L400.4 171.6L400.5 144.2L400.7 142.2L400.9 154.9L401.0 138.9L401.2 154.9L401.4 144.2L401.5 154.9L401.7 142.2L401.9 136.1L402.0 151.6L402.2 151.6L402.4 146.3L402.5 184.2L402.7 158.9L402.9 158.9L403.0 151.6L403.2 154.9L403.4 146.3L403.5 151.6L403.7 171.6L403.9 164.2L404.0 184.2L404.2 151.6L404.4 148.7L404.5 154.9L404.7 164.2L404.9 154.9L405.0 154.9L405.2 158.9L405.4 158.9L405.5 146.3L405.7 158.9L405.9 140.5L406.0 142.2L406.2 164.2L406.4 158.9L406.5 184.2L406.7 154.9L406.9 154.9L407.0 158.9L407.2 140.5L407.4 158.9L407.5 164.2L407.7 146.3L407.9 148.7L408.0 164.2L408.2 164.2L408.4 171.6L408.5 151.6L408.7 158.9L408.9 151.6L409.0 171.6L409.2 171.6L409.4 154.9L409.5 154.9L409.7 148.7L409.9 154.9L410.0 146.3L410.2 171.6L410.4 171.6L410.5 154.9L410.7 154.9L410.9 151.6L411.0 164.2L411.2 148.7L411.4 151.6L411.5 148.7L411.7 171.6L411.9 158.9L412.0 151.6L412.2 171.6L412.4 184.2L412.5 184.2L412.7 154.9L412.9 171.6L413.0 171.6L413.2 154.9L413.4 164.2L413.5 158.9L413.7 164.2L413.9 151.6L414.0 144.2L414.2 154.9L414.4 158.9L414.5 184.2L414.7 151.6L414.9 164.2L415.0 171.6L415.2 154.9L415.4 164.2L415.5 158.9L415.7 154.9L415.9 154.9L416.0 158.9L416.2 164.2L416.4 164.2L416.5 151.6L416.7 154.9L416.9 184.2L417.0 171.6L417.2 164.2L417.4 184.2L417.5 171.6L417.7 164.2L417.8 171.6L418.0 184.2L418.3 184.2L418.5 164.2L418.8 164.2L419.0 164.2L419.3 164.2L419.5 164.2L419.8 164.2L420.0 171.6L420.3 158.9L420.5 164.2L420.8 164.2L421.0 171.6L421.3 171.6L421.5 154.9L421.8 158.9L422.0 164.2L422.3 158.9L422.5 164.2L422.8 158.9L423.0 164.2L423.3 164.2L423.5 164.2L423.8 184.2L424.0 171.6L424.3 158.9L424.5 164.2L424.8 164.2L425.0 164.2L425.3 158.9L425.5 171.6L425.8 164.2L426.0 164.2L426.3 171.6L426.5 184.2L426.8 164.2L427.0 171.6L427.3 164.2L427.5 171.6L427.8 171.6L428.0 158.9L428.3 171.6L428.5 164.2L428.8 171.6L429.0 171.6L429.3 171.6L429.5 158.9L429.8 171.6L430.0 164.2L430.3 171.6L430.5 164.2L430.8 164.2L431.0 184.2L431.3 158.9L431.5 171.6L431.8 171.6L432.0 171.6L432.3 154.9L432.5 158.9L432.8 164.2L433.0 171.6L433.3 164.2L433.5 184.2L433.8 158.9L434.0 184.2L434.3 184.2L434.5 171.6L434.8 164.2L435.0 184.2L435.3 171.6L435.5 154.9L435.8 164.2L436.0 184.2L436.3 158.9L436.5 164.2L436.8 154.9L437.0 171.6L437.3 171.6L437.5 164.2L437.8 164.2L438.0 171.6L438.3 164.2L438.5 164.2L438.8 171.6L439.0 158.9L439.3 164.2L439.5 164.2L439.8 164.2L440.0 171.6L440.3 164.2L440.5 171.6L440.8 171.6L441.0 164.2L441.3 171.6L441.5 171.6L441.8 164.2L442.0 154.9L442.3 184.2L442.5 164.2L442.8 171.6L443.0 164.2L443.3 164.2L443.5 164.2L443.8 184.2L444.0 164.2L444.3 164.2L444.5 164.2L444.8 164.2L445.0 158.9L445.3 171.6L445.5 158.9L445.8 171.6L446.0 164.2L446.3 171.6L446.5 171.6L446.8 158.9L447.0 154.9L447.3 164.2L447.5 171.6L447.8 171.6L448.0 158.9L448.3 164.2L448.5 171.6L448.8 158.9L449.0 164.2L449.3 171.6L449.5 158.9L449.8 164.2L450.0 184.2L450.3 154.9L450.5 164.2L450.8 171.6L451.0 158.9L451.3 171.6L451.5 164.2L451.8 164.2L452.0 171.6L452.3 154.9L452.5 164.2L452.8 184.2L453.0 164.2L453.3 184.2L453.5 154.9L453.8 164.2L454.0 171.6L454.3 158.9L454.5 158.9L454.8 164.2L455.0 171.6L455.3 171.6L455.5 158.9L455.8 158.9L456.0 171.6L456.3 171.6L456.5 171.6L456.8 171.6L457.0 158.9L457.3 164.2L457.5 164.2L457.8 164.2L458.0 171.6L458.3 184.2L458.5 171.6L458.8 164.2L459.0 164.2L459.3 154.9L459.5 158.9L459.8 164.2L460.0 171.6L460.3 171.6L460.5 164.2L460.8 171.6L461.0 164.2L461.3 164.2L461.5 171.6L461.8 158.9L462.0 171.6L462.3 171.6L462.5 154.9L462.8 164.2L463.0 158.9L463.3 158.9L463.5 171.6L463.8 158.9L464.0 171.6L464.3 184.2L464.5 171.6L464.8 171.6L465.0 164.2L465.3 164.2L465.5 158.9L465.8 171.6L466.0 164.2L466.3 171.6L466.8 184.2L467.3 184.2L467.8 184.2L468.3 184.2L468.8 184.2L469.3 184.2L469.8 184.2L470.3 184.2L470.8 184.2L471.3 184.2L471.8 184.2L472.3 184.2L472.8 184.2L473.3 184.2L473.8 184.2L474.3 171.6L474.8 184.2L475.3 184.2L475.8 184.2L476.3 184.2L476.8 184.2L477.3 171.6L477.8 184.2L478.3 184.2L478.8 184.2L479.3 184.2L479.8 184.2L480.3 184.2L480.8 184.2L481.3 184.2L481.8 184.2L482.3 171.6L482.8 184.2L483.3 184.2L483.8 184.2L484.3 184.2L484.8 184.2L485.3 184.2L485.8 184.2L486.3 184.2L486.8 158.9L487.3 184.2L487.8 164.2L488.3 184.2L488.8 184.2L489.3 184.2L489.8 171.6L490.3 184.2L490.8 184.2L491.3 184.2L491.8 184.2L492.3 184.2L492.8 184.2L493.3 184.2L493.8 164.2L494.3 184.2L494.8 184.2L495.3 171.6L495.8 184.2L496.3 184.2L496.8 184.2L497.3 184.2L497.8 184.2L498.3 184.2L498.8 184.2L499.3 184.2L499.8 184.2L500.3 184.2L500.8 184.2L501.3 184.2L501.8 184.2L502.3 184.2L502.8 184.2L503.3 184.2L503.8 184.2L504.3 184.2L504.8 184.2L505.3 184.2L505.8 184.2L506.3 184.2L506.8 184.2L507.3 184.2L507.8 184.2L508.3 184.2L508.8 184.2L509.3 184.2L509.8 184.2L510.3 184.2L510.8 184.2L511.3 184.2L511.8 184.2L512.3 184.2L512.8 184.2L513.3 184.2L513.8 184.2L514.3 184.2L514.8 184.2L515.3 184.2L515.8 164.2L516.3 184.2L516.8 184.2L517.3 184.2L517.8 184.2L518.3 184.2L518.8 184.2L519.3 184.2L519.8 184.2L520.3 184.2L520.8 184.2L521.3 184.2L521.8 184.2L522.3 184.2L522.8 184.2L523.3 184.2L523.8 184.2L524.3 184.2L524.8 164.2L525.3 184.2L525.8 184.2L526.3 184.2L526.8 184.2L527.3 184.2L527.8 184.2L528.3 184.2L528.8 184.2L529.3 184.2L529.8 184.2L530.3 184.2L530.8 184.2L531.3 184.2L531.8 184.2L532.3 184.2L532.8 184.2L533.3 184.2L533.8 184.2L534.3 184.2L534.8 184.2L535.3 184.2L535.8 184.2L536.3 184.2L536.8 184.2L537.3 184.2" stroke="#1212f5" stroke-width="1.4" fill="none"/><rect x="319.8" y="9.3" width="217.7" height="174.89999999999998" fill="none" stroke="#000" stroke-width="1.7"/><path d="M319.80 184.2v-3.5M363.34 184.2v-3.5M406.88 184.2v-3.5M450.42 184.2v-3.5M493.96 184.2v-3.5M537.50 184.2v-3.5M341.57 184.2v-2.0M385.11 184.2v-2.0M428.65 184.2v-2.0M472.19 184.2v-2.0M515.73 184.2v-2.0" stroke="#000" stroke-width="1.2" fill="none"/><path d="M319.8 184.20h3.5M319.8 142.25h3.5M319.8 100.30h3.5M319.8 58.35h3.5M319.8 16.40h3.5M319.8 171.57h2.0M319.8 164.18h2.0M319.8 158.94h2.0M319.8 154.88h2.0M319.8 151.56h2.0M319.8 148.75h2.0M319.8 146.32h2.0M319.8 144.17h2.0M319.8 129.62h2.0M319.8 122.23h2.0M319.8 116.99h2.0M319.8 112.93h2.0M319.8 109.61h2.0M319.8 106.80h2.0M319.8 104.37h2.0M319.8 102.22h2.0M319.8 87.67h2.0M319.8 80.28h2.0M319.8 75.04h2.0M319.8 70.98h2.0M319.8 67.66h2.0M319.8 64.85h2.0M319.8 62.42h2.0M319.8 60.27h2.0M319.8 45.72h2.0M319.8 38.33h2.0M319.8 33.09h2.0M319.8 29.03h2.0M319.8 25.71h2.0M319.8 22.90h2.0M319.8 20.47h2.0M319.8 18.32h2.0" stroke="#000" stroke-width="1.2" fill="none"/><text x="319.80" y="196.80" font-family="'Liberation Sans', Arial, sans-serif" font-size="10.3" font-weight="bold" text-anchor="middle" fill="#000">0.0</text><text x="363.34" y="196.80" font-family="'Liberation Sans', Arial, sans-serif" font-size="10.3" font-weight="bold" text-anchor="middle" fill="#000">0.2</text><text x="406.88" y="196.80" font-family="'Liberation Sans', Arial, sans-serif" font-size="10.3" font-weight="bold" text-anchor="middle" fill="#000">0.4</text><text x="450.42" y="196.80" font-family="'Liberation Sans', Arial, sans-serif" font-size="10.3" font-weight="bold" text-anchor="middle" fill="#000">0.6</text><text x="493.96" y="196.80" font-family="'Liberation Sans', Arial, sans-serif" font-size="10.3" font-weight="bold" text-anchor="middle" fill="#000">0.8</text><text x="537.50" y="196.80" font-family="'Liberation Sans', Arial, sans-serif" font-size="10.3" font-weight="bold" text-anchor="middle" fill="#000">1.0</text><text x="312.40" y="188.10" font-family="'Liberation Sans', Arial, sans-serif" font-size="10" font-weight="bold" text-anchor="end" fill="#000">10</text><text x="312.50" y="183.80" font-family="'Liberation Sans', Arial, sans-serif" font-size="7" font-weight="bold" text-anchor="start" fill="#000">0</text><text x="312.40" y="146.15" font-family="'Liberation Sans', Arial, sans-serif" font-size="10" font-weight="bold" text-anchor="end" fill="#000">10</text><text x="312.50" y="141.85" font-family="'Liberation Sans', Arial, sans-serif" font-size="7" font-weight="bold" text-anchor="start" fill="#000">1</text><text x="312.40" y="104.20" font-family="'Liberation Sans', Arial, sans-serif" font-size="10" font-weight="bold" text-anchor="end" fill="#000">10</text><text x="312.50" y="99.90" font-family="'Liberation Sans', Arial, sans-serif" font-size="7" font-weight="bold" text-anchor="start" fill="#000">2</text><text x="312.40" y="62.25" font-family="'Liberation Sans', Arial, sans-serif" font-size="10" font-weight="bold" text-anchor="end" fill="#000">10</text><text x="312.50" y="57.95" font-family="'Liberation Sans', Arial, sans-serif" font-size="7" font-weight="bold" text-anchor="start" fill="#000">3</text><text x="312.40" y="20.30" font-family="'Liberation Sans', Arial, sans-serif" font-size="10" font-weight="bold" text-anchor="end" fill="#000">10</text><text x="312.50" y="16.00" font-family="'Liberation Sans', Arial, sans-serif" font-size="7" font-weight="bold" text-anchor="start" fill="#000">4</text><text x="286.00" y="17.30" font-family="'Liberation Sans', Arial, sans-serif" font-size="10" font-weight="bold" text-anchor="start" fill="#000">(b)</text><text x="428.90" y="212.70" font-family="'Liberation Sans', Arial, sans-serif" font-size="10" font-weight="bold" text-anchor="middle" fill="#000">Time (ms)</text><text transform="translate(294.4 96.5) rotate(-90)" font-family="'Liberation Sans', Arial, sans-serif" font-size="10" font-weight="bold" text-anchor="middle">PL intensity (a.u.)</text><path d="M464.5 23.4H487.3" stroke="#1414f0" stroke-width="1.5"/><path d="M464.5 36H487.3" stroke="#c6c6c6" stroke-width="1.5"/><text x="492.00" y="26.40" font-family="'Liberation Sans', Arial, sans-serif" font-size="9.9" font-weight="normal" text-anchor="start" fill="#000">BNBO</text><text x="492.00" y="39.20" font-family="'Liberation Sans', Arial, sans-serif" font-size="9.9" font-weight="normal" text-anchor="start" fill="#000">IRF</text><text x="403.3" y="104" font-family="'Liberation Serif', 'Times New Roman', serif" font-size="11.6" font-weight="bold"><tspan font-style="italic">τ</tspan><tspan font-size="8.6" dy="3.3">d</tspan><tspan dy="-3.3"> = 27.9 μs</tspan></text><clipPath id="cc"><rect x="42.8" y="228.5" width="217.5" height="174.60000000000002"/></clipPath><path clip-path="url(#cc)" d="M71.5 235.9L71.7 242.7L72.2 258.9L72.7 274.3L73.2 281.0L73.7 286.9L74.2 294.7L74.7 301.9L75.2 310.4L75.7 311.3L76.2 314.6L76.7 315.2L77.2 320.1L77.7 320.4L78.2 323.8L78.7 322.2L79.2 326.2L79.7 333.6L80.2 332.8L80.7 333.6L81.2 339.1L81.7 340.2L82.2 346.2L82.7 345.4L83.2 348.7L83.7 358.0L84.2 356.5L84.7 365.4L85.2 367.8L85.7 373.9L86.2 390.5L86.7 390.5L87.2 390.5L87.7 403.1L88.2 403.1L88.7 403.1L89.2 403.1L89.7 403.1L90.2 403.1L90.7 390.5L91.2 390.5L91.7 403.1L92.2 403.1L92.7 403.1L93.2 403.1L93.7 403.1L94.2 403.1L94.7 390.5L95.2 403.1L95.7 403.1L96.2 403.1L96.7 403.1L97.2 403.1L97.7 403.1L98.2 403.1L98.7 403.1L99.2 403.1L99.7 390.5L100.2 403.1L100.7 403.1L101.2 403.1L101.7 390.5L102.2 383.2L102.7 390.5L103.2 403.1L103.7 403.1L104.2 383.2L104.7 403.1L105.2 403.1L105.7 403.1L106.2 403.1L106.7 403.1L107.2 403.1L107.7 373.9L108.2 403.1L108.7 403.1L109.2 403.1L109.7 403.1L110.2 403.1L110.7 403.1L111.2 403.1L111.7 403.1L112.2 403.1L112.7 403.1L113.2 390.5L113.7 403.1L114.2 403.1L114.7 403.1L115.2 403.1L115.7 403.1L116.2 403.1L116.7 403.1L117.2 390.5L117.7 403.1L118.2 403.1L118.7 403.1L119.2 403.1L119.7 390.5L120.2 403.1L120.7 403.1L121.2 403.1L121.7 390.5L122.2 390.5L122.7 403.1L123.2 403.1L123.7 403.1L124.2 403.1L124.7 403.1L125.2 403.1L125.7 403.1L126.2 403.1L126.7 403.1L127.2 390.5L127.7 403.1L128.2 403.1L128.7 403.1L129.2 403.1L129.7 390.5L130.2 403.1L130.7 403.1L131.2 403.1L131.7 403.1L132.2 403.1L132.7 403.1L133.2 403.1L133.7 403.1L134.2 403.1L134.7 403.1L135.2 403.1L135.7 403.1L136.2 403.1L136.7 390.5L137.2 403.1L137.7 403.1L138.2 403.1L138.7 403.1L139.2 403.1L139.7 390.5L140.2 403.1L140.7 403.1L141.2 403.1L141.7 403.1L142.2 403.1L142.7 403.1L143.2 403.1L143.7 403.1L144.2 383.2L144.7 403.1L145.2 403.1L145.7 403.1L146.2 403.1L146.7 390.5L147.2 403.1L147.7 403.1L148.2 403.1L148.7 383.2L149.2 403.1L149.7 403.1L150.2 403.1L150.7 403.1L151.2 403.1L151.7 403.1L152.2 403.1L152.7 403.1L153.2 390.5L153.7 383.2L154.2 403.1L154.7 403.1L155.2 403.1L155.7 403.1L156.2 403.1L156.7 403.1L157.2 403.1L157.7 403.1L158.2 403.1L158.7 403.1L159.2 403.1L159.7 403.1L160.2 383.2L160.7 390.5L161.2 383.2L161.7 383.2L162.2 403.1L162.7 403.1L163.2 403.1L163.7 403.1L164.2 383.2L164.7 403.1L165.2 403.1L165.7 403.1L166.2 403.1L166.7 403.1L167.2 403.1L167.7 390.5L168.2 403.1L168.7 403.1L169.2 390.5L169.7 403.1L170.2 403.1L170.7 377.9L171.2 403.1L171.7 403.1L172.2 403.1L172.7 403.1L173.2 403.1L173.7 403.1L174.2 403.1L174.7 390.5L175.2 403.1L175.7 403.1L176.2 403.1L176.7 403.1L177.2 403.1L177.7 403.1L178.2 403.1L178.7 390.5L179.2 403.1L179.7 403.1L180.2 403.1L180.7 403.1L181.2 403.1L181.7 390.5L182.2 390.5L182.7 403.1L183.2 403.1L183.7 403.1L184.2 403.1L184.7 403.1L185.2 403.1L185.7 403.1L186.2 403.1L186.7 390.5L187.2 403.1L187.7 403.1L188.2 403.1L188.7 403.1L189.2 403.1L189.7 403.1L190.2 403.1L190.7 403.1L191.2 403.1L191.7 403.1L192.2 403.1L192.7 403.1L193.2 390.5L193.7 403.1L194.2 403.1L194.7 403.1L195.2 390.5L195.7 403.1L196.2 403.1L196.7 403.1L197.2 403.1L197.7 390.5L198.2 383.2L198.7 403.1L199.2 403.1L199.7 403.1L200.2 403.1L200.7 403.1L201.2 403.1L201.7 403.1L202.2 403.1L202.7 403.1L203.2 403.1L203.7 403.1L204.2 403.1L204.7 403.1L205.2 403.1L205.7 403.1L206.2 403.1L206.7 403.1L207.2 403.1L207.7 403.1L208.2 390.5L208.7 403.1L209.2 403.1L209.7 403.1L210.2 403.1L210.7 403.1L211.2 390.5L211.7 390.5L212.2 403.1L212.7 403.1L213.2 403.1L213.7 403.1L214.2 403.1L214.7 403.1L215.2 403.1L215.7 403.1L216.2 403.1L216.7 403.1L217.2 403.1L217.7 390.5L218.2 403.1L218.7 403.1L219.2 403.1L219.7 403.1L220.2 403.1L220.7 403.1L221.2 403.1L221.7 403.1L222.2 403.1L222.7 403.1L223.2 403.1L223.7 403.1L224.2 383.2L224.7 403.1L225.2 403.1L225.7 390.5L226.2 403.1L226.7 403.1L227.2 403.1L227.7 403.1L228.2 403.1L228.7 403.1L229.2 403.1L229.7 403.1L230.2 403.1L230.7 403.1L231.2 390.5L231.7 403.1L232.2 383.2L232.7 390.5L233.2 390.5L233.7 403.1L234.2 403.1L234.7 403.1L235.2 403.1L235.7 403.1L236.2 403.1L236.7 403.1L237.2 403.1L237.7 403.1L238.2 403.1L238.7 403.1L239.2 403.1L239.7 403.1L240.2 403.1L240.7 403.1L241.2 403.1L241.7 403.1L242.2 403.1L242.7 403.1L243.2 403.1L243.7 403.1L244.2 403.1L244.7 390.5L245.2 390.5L245.7 390.5L246.2 403.1L246.7 403.1L247.2 403.1L247.7 403.1L248.2 403.1L248.7 403.1L249.2 403.1L249.7 403.1L250.2 403.1L250.7 403.1L251.2 390.5L251.7 403.1L252.2 403.1L252.7 403.1L253.2 403.1L253.7 377.9L254.2 403.1L254.7 403.1L255.2 403.1L255.7 403.1L256.2 403.1L256.7 390.5L257.2 403.1L257.7 403.1L258.2 403.1L258.7 403.1L259.2 390.5L259.7 403.1L260.2 403.1" stroke="#a020f0" stroke-width="1.3" fill="none"/><path clip-path="url(#cc)" d="M71.5 235.9L71.7 242.0L72.2 258.8L72.7 273.9L73.2 281.6L73.7 286.7L74.2 293.1L74.7 302.2L75.2 307.4L75.7 312.5L76.2 314.1L76.7 317.0L77.2 319.7L77.7 320.8L78.2 323.1L78.7 324.7L79.2 327.9L79.7 328.2L80.2 331.0L80.7 338.6L81.2 335.7L81.7 334.4L82.2 345.4L82.7 353.9L83.2 345.4L83.7 347.8L84.2 361.3L84.7 367.8L85.2 370.6L85.7 370.6L86.2 383.2L86.7 390.5L87.2 383.2L87.7 383.2L88.2 403.1L88.7 403.1L89.2 403.1L89.7 403.1L90.2 403.1L90.7 403.1L91.2 403.1L91.7 390.5L92.2 403.1L92.7 403.1L93.2 403.1L93.7 390.5L94.2 390.5L94.7 403.1L95.2 403.1L95.7 390.5L96.2 403.1L96.7 403.1L97.2 390.5L97.7 403.1L98.2 403.1L98.7 390.5L99.2 403.1L99.7 390.5L100.2 403.1L100.7 390.5L101.2 403.1L101.7 403.1L102.2 403.1L102.7 403.1L103.2 403.1L103.7 403.1L104.2 403.1L104.7 403.1L105.2 403.1L105.7 390.5L106.2 403.1L106.7 403.1L107.2 403.1L107.7 403.1L108.2 403.1L108.7 403.1L109.2 403.1L109.7 403.1L110.2 403.1L110.7 377.9L111.2 403.1L111.7 403.1L112.2 403.1L112.7 403.1L113.2 390.5L113.7 383.2L114.2 403.1L114.7 403.1L115.2 403.1L115.7 403.1L116.2 403.1L116.7 403.1L117.2 403.1L117.7 377.9L118.2 403.1L118.7 403.1L119.2 403.1L119.7 403.1L120.2 403.1L120.7 403.1L121.2 403.1L121.7 403.1L122.2 403.1L122.7 403.1L123.2 390.5L123.7 390.5L124.2 403.1L124.7 403.1L125.2 383.2L125.7 403.1L126.2 403.1L126.7 403.1L127.2 383.2L127.7 403.1L128.2 383.2L128.7 403.1L129.2 403.1L129.7 403.1L130.2 403.1L130.7 403.1L131.2 403.1L131.7 390.5L132.2 403.1L132.7 403.1L133.2 403.1L133.7 403.1L134.2 403.1L134.7 403.1L135.2 403.1L135.7 403.1L136.2 403.1L136.7 403.1L137.2 403.1L137.7 403.1L138.2 390.5L138.7 403.1L139.2 403.1L139.7 403.1L140.2 403.1L140.7 403.1L141.2 403.1L141.7 403.1L142.2 403.1L142.7 403.1L143.2 403.1L143.7 403.1L144.2 403.1L144.7 390.5L145.2 403.1L145.7 403.1L146.2 403.1L146.7 390.5L147.2 390.5L147.7 403.1L148.2 403.1L148.7 390.5L149.2 403.1L149.7 403.1L150.2 403.1L150.7 403.1L151.2 403.1L151.7 403.1L152.2 403.1L152.7 403.1L153.2 403.1L153.7 403.1L154.2 403.1L154.7 403.1L155.2 383.2L155.7 390.5L156.2 403.1L156.7 403.1L157.2 403.1L157.7 390.5L158.2 390.5L158.7 403.1L159.2 403.1L159.7 390.5L160.2 403.1L160.7 403.1L161.2 403.1L161.7 403.1L162.2 403.1L162.7 403.1L163.2 403.1L163.7 403.1L164.2 403.1L164.7 403.1L165.2 403.1L165.7 403.1L166.2 403.1L166.7 403.1L167.2 403.1L167.7 403.1L168.2 403.1L168.7 403.1L169.2 403.1L169.7 403.1L170.2 403.1L170.7 403.1L171.2 403.1L171.7 403.1L172.2 403.1L172.7 403.1L173.2 403.1L173.7 403.1L174.2 403.1L174.7 390.5L175.2 403.1L175.7 403.1L176.2 403.1L176.7 403.1L177.2 383.2L177.7 403.1L178.2 403.1L178.7 403.1L179.2 403.1L179.7 403.1L180.2 390.5L180.7 390.5L181.2 403.1L181.7 403.1L182.2 403.1L182.7 403.1L183.2 403.1L183.7 403.1L184.2 403.1L184.7 403.1L185.2 403.1L185.7 403.1L186.2 403.1L186.7 403.1L187.2 403.1L187.7 403.1L188.2 383.2L188.7 390.5L189.2 403.1L189.7 403.1L190.2 403.1L190.7 403.1L191.2 403.1L191.7 403.1L192.2 403.1L192.7 403.1L193.2 403.1L193.7 403.1L194.2 403.1L194.7 403.1L195.2 403.1L195.7 403.1L196.2 403.1L196.7 403.1L197.2 403.1L197.7 403.1L198.2 403.1L198.7 403.1L199.2 383.2L199.7 403.1L200.2 403.1L200.7 390.5L201.2 403.1L201.7 403.1L202.2 403.1L202.7 403.1L203.2 403.1L203.7 403.1L204.2 403.1L204.7 403.1L205.2 403.1L205.7 390.5L206.2 403.1L206.7 403.1L207.2 403.1L207.7 403.1L208.2 403.1L208.7 403.1L209.2 403.1L209.7 403.1L210.2 403.1L210.7 403.1L211.2 403.1L211.7 403.1L212.2 403.1L212.7 403.1L213.2 403.1L213.7 403.1L214.2 403.1L214.7 403.1L215.2 403.1L215.7 403.1L216.2 403.1L216.7 403.1L217.2 403.1L217.7 403.1L218.2 403.1L218.7 403.1L219.2 403.1L219.7 403.1L220.2 403.1L220.7 403.1L221.2 403.1L221.7 403.1L222.2 403.1L222.7 403.1L223.2 403.1L223.7 403.1L224.2 403.1L224.7 403.1L225.2 403.1L225.7 383.2L226.2 403.1L226.7 403.1L227.2 403.1L227.7 403.1L228.2 403.1L228.7 403.1L229.2 403.1L229.7 403.1L230.2 403.1L230.7 403.1L231.2 390.5L231.7 403.1L232.2 403.1L232.7 403.1L233.2 403.1L233.7 403.1L234.2 403.1L234.7 403.1L235.2 403.1L235.7 403.1L236.2 377.9L236.7 390.5L237.2 403.1L237.7 403.1L238.2 403.1L238.7 403.1L239.2 403.1L239.7 390.5L240.2 403.1L240.7 403.1L241.2 403.1L241.7 403.1L242.2 383.2L242.7 403.1L243.2 390.5L243.7 403.1L244.2 403.1L244.7 403.1L245.2 403.1L245.7 390.5L246.2 403.1L246.7 390.5L247.2 403.1L247.7 390.5L248.2 403.1L248.7 403.1L249.2 390.5L249.7 403.1L250.2 390.5L250.7 403.1L251.2 403.1L251.7 403.1L252.2 403.1L252.7 403.1L253.2 403.1L253.7 403.1L254.2 403.1L254.7 403.1L255.2 403.1L255.7 403.1L256.2 403.1L256.7 383.2L257.2 383.2L257.7 403.1L258.2 403.1L258.7 403.1L259.2 403.1L259.7 383.2L260.2 390.5" stroke="#3b1cf0" stroke-width="1.3" fill="none"/><path clip-path="url(#cc)" d="M71.5 235.9L71.7 241.9L72.2 259.9L72.7 274.4L73.2 281.1L73.7 286.1L74.2 293.4L74.7 301.9L75.2 307.1L75.7 310.6L76.2 313.8L76.7 319.7L77.2 315.3L77.7 318.8L78.2 325.7L78.7 331.0L79.2 327.6L79.7 328.2L80.2 329.1L80.7 338.0L81.2 340.8L81.7 337.5L82.2 347.8L82.7 344.7L83.2 351.7L83.7 359.6L84.2 370.6L84.7 361.3L85.2 361.3L85.7 403.1L86.2 403.1L86.7 377.9L87.2 377.9L87.7 403.1L88.2 403.1L88.7 403.1L89.2 403.1L89.7 403.1L90.2 383.2L90.7 390.5L91.2 403.1L91.7 383.2L92.2 403.1L92.7 403.1L93.2 403.1L93.7 403.1L94.2 377.9L94.7 377.9L95.2 403.1L95.7 390.5L96.2 403.1L96.7 403.1L97.2 403.1L97.7 403.1L98.2 403.1L98.7 403.1L99.2 403.1L99.7 377.9L100.2 403.1L100.7 390.5L101.2 403.1L101.7 403.1L102.2 390.5L102.7 383.2L103.2 403.1L103.7 403.1L104.2 403.1L104.7 403.1L105.2 403.1L105.7 383.2L106.2 403.1L106.7 377.9L107.2 403.1L107.7 403.1L108.2 403.1L108.7 403.1L109.2 403.1L109.7 383.2L110.2 390.5L110.7 403.1L111.2 403.1L111.7 403.1L112.2 403.1L112.7 403.1L113.2 390.5L113.7 390.5L114.2 403.1L114.7 403.1L115.2 390.5L115.7 403.1L116.2 403.1L116.7 403.1L117.2 403.1L117.7 403.1L118.2 403.1L118.7 390.5L119.2 390.5L119.7 390.5L120.2 403.1L120.7 403.1L121.2 403.1L121.7 403.1L122.2 383.2L122.7 403.1L123.2 403.1L123.7 383.2L124.2 403.1L124.7 403.1L125.2 403.1L125.7 403.1L126.2 403.1L126.7 403.1L127.2 403.1L127.7 377.9L128.2 403.1L128.7 403.1L129.2 390.5L129.7 383.2L130.2 390.5L130.7 390.5L131.2 403.1L131.7 403.1L132.2 390.5L132.7 403.1L133.2 403.1L133.7 403.1L134.2 383.2L134.7 403.1L135.2 390.5L135.7 390.5L136.2 403.1L136.7 390.5L137.2 403.1L137.7 403.1L138.2 403.1L138.7 390.5L139.2 403.1L139.7 390.5L140.2 403.1L140.7 403.1L141.2 403.1L141.7 403.1L142.2 403.1L142.7 390.5L143.2 403.1L143.7 403.1L144.2 403.1L144.7 403.1L145.2 390.5L145.7 403.1L146.2 403.1L146.7 403.1L147.2 403.1L147.7 403.1L148.2 403.1L148.7 390.5L149.2 403.1L149.7 390.5L150.2 403.1L150.7 403.1L151.2 403.1L151.7 403.1L152.2 403.1L152.7 403.1L153.2 403.1L153.7 403.1L154.2 403.1L154.7 403.1L155.2 403.1L155.7 403.1L156.2 403.1L156.7 403.1L157.2 403.1L157.7 390.5L158.2 403.1L158.7 403.1L159.2 383.2L159.7 390.5L160.2 403.1L160.7 403.1L161.2 403.1L161.7 403.1L162.2 403.1L162.7 390.5L163.2 403.1L163.7 403.1L164.2 390.5L164.7 403.1L165.2 403.1L165.7 403.1L166.2 403.1L166.7 403.1L167.2 403.1L167.7 403.1L168.2 383.2L168.7 403.1L169.2 390.5L169.7 403.1L170.2 403.1L170.7 403.1L171.2 403.1L171.7 403.1L172.2 403.1L172.7 383.2L173.2 403.1L173.7 403.1L174.2 403.1L174.7 403.1L175.2 383.2L175.7 403.1L176.2 403.1L176.7 403.1L177.2 403.1L177.7 403.1L178.2 390.5L178.7 403.1L179.2 403.1L179.7 403.1L180.2 403.1L180.7 403.1L181.2 390.5L181.7 403.1L182.2 403.1L182.7 403.1L183.2 390.5L183.7 403.1L184.2 403.1L184.7 403.1L185.2 403.1L185.7 403.1L186.2 390.5L186.7 403.1L187.2 403.1L187.7 403.1L188.2 383.2L188.7 403.1L189.2 403.1L189.7 403.1L190.2 390.5L190.7 390.5L191.2 390.5L191.7 403.1L192.2 403.1L192.7 403.1L193.2 403.1L193.7 403.1L194.2 403.1L194.7 403.1L195.2 403.1L195.7 403.1L196.2 403.1L196.7 403.1L197.2 403.1L197.7 403.1L198.2 403.1L198.7 403.1L199.2 403.1L199.7 403.1L200.2 403.1L200.7 390.5L201.2 403.1L201.7 403.1L202.2 403.1L202.7 403.1L203.2 403.1L203.7 383.2L204.2 403.1L204.7 403.1L205.2 403.1L205.7 403.1L206.2 403.1L206.7 390.5L207.2 403.1L207.7 403.1L208.2 403.1L208.7 403.1L209.2 403.1L209.7 383.2L210.2 383.2L210.7 403.1L211.2 403.1L211.7 390.5L212.2 403.1L212.7 403.1L213.2 403.1L213.7 403.1L214.2 403.1L214.7 390.5L215.2 403.1L215.7 403.1L216.2 403.1L216.7 403.1L217.2 403.1L217.7 403.1L218.2 403.1L218.7 403.1L219.2 377.9L219.7 403.1L220.2 403.1L220.7 403.1L221.2 403.1L221.7 403.1L222.2 403.1L222.7 403.1L223.2 403.1L223.7 403.1L224.2 403.1L224.7 403.1L225.2 383.2L225.7 390.5L226.2 403.1L226.7 403.1L227.2 377.9L227.7 403.1L228.2 403.1L228.7 403.1L229.2 383.2L229.7 403.1L230.2 403.1L230.7 390.5L231.2 403.1L231.7 403.1L232.2 403.1L232.7 403.1L233.2 403.1L233.7 403.1L234.2 403.1L234.7 390.5L235.2 403.1L235.7 403.1L236.2 390.5L236.7 403.1L237.2 403.1L237.7 403.1L238.2 390.5L238.7 403.1L239.2 403.1L239.7 403.1L240.2 403.1L240.7 403.1L241.2 403.1L241.7 403.1L242.2 403.1L242.7 383.2L243.2 403.1L243.7 403.1L244.2 390.5L244.7 403.1L245.2 390.5L245.7 403.1L246.2 403.1L246.7 403.1L247.2 403.1L247.7 403.1L248.2 403.1L248.7 403.1L249.2 403.1L249.7 403.1L250.2 403.1L250.7 403.1L251.2 383.2L251.7 403.1L252.2 403.1L252.7 403.1L253.2 403.1L253.7 403.1L254.2 403.1L254.7 403.1L255.2 403.1L255.7 403.1L256.2 377.9L256.7 403.1L257.2 403.1L257.7 403.1L258.2 403.1L258.7 403.1L259.2 390.5L259.7 403.1L260.2 403.1" stroke="#2a8cf0" stroke-width="1.3" fill="none"/><path clip-path="url(#cc)" d="M71.5 235.9L71.7 241.6L72.2 259.8L72.7 274.8L73.2 281.5L73.7 286.8L74.2 293.3L74.7 302.5L75.2 308.5L75.7 310.3L76.2 312.9L76.7 317.4L77.2 320.6L77.7 316.3L78.2 321.6L78.7 323.6L79.2 328.8L79.7 330.7L80.2 332.8L80.7 330.0L81.2 334.0L81.7 339.1L82.2 334.4L82.7 341.4L83.2 347.8L83.7 347.8L84.2 358.0L84.7 355.2L85.2 356.5L85.7 377.9L86.2 377.9L86.7 377.9L87.2 365.4L87.7 377.9L88.2 377.9L88.7 367.8L89.2 373.9L89.7 383.2L90.2 370.6L90.7 383.2L91.2 370.6L91.7 403.1L92.2 383.2L92.7 383.2L93.2 383.2L93.7 383.2L94.2 390.5L94.7 377.9L95.2 373.9L95.7 383.2L96.2 377.9L96.7 383.2L97.2 390.5L97.7 390.5L98.2 383.2L98.7 370.6L99.2 383.2L99.7 373.9L100.2 390.5L100.7 383.2L101.2 403.1L101.7 383.2L102.2 377.9L102.7 370.6L103.2 373.9L103.7 377.9L104.2 383.2L104.7 403.1L105.2 390.5L105.7 373.9L106.2 383.2L106.7 373.9L107.2 390.5L107.7 403.1L108.2 403.1L108.7 390.5L109.2 370.6L109.7 377.9L110.2 390.5L110.7 377.9L111.2 403.1L111.7 403.1L112.2 390.5L112.7 373.9L113.2 377.9L113.7 370.6L114.2 403.1L114.7 377.9L115.2 373.9L115.7 403.1L116.2 403.1L116.7 367.8L117.2 383.2L117.7 383.2L118.2 373.9L118.7 390.5L119.2 367.8L119.7 377.9L120.2 383.2L120.7 377.9L121.2 390.5L121.7 370.6L122.2 377.9L122.7 377.9L123.2 383.2L123.7 403.1L124.2 383.2L124.7 403.1L125.2 377.9L125.7 367.8L126.2 403.1L126.7 383.2L127.2 403.1L127.7 390.5L128.2 390.5L128.7 377.9L129.2 403.1L129.7 373.9L130.2 390.5L130.7 383.2L131.2 390.5L131.7 390.5L132.2 390.5L132.7 365.4L133.2 383.2L133.7 390.5L134.2 383.2L134.7 390.5L135.2 390.5L135.7 377.9L136.2 367.8L136.7 383.2L137.2 373.9L137.7 373.9L138.2 383.2L138.7 383.2L139.2 377.9L139.7 403.1L140.2 377.9L140.7 383.2L141.2 403.1L141.7 383.2L142.2 403.1L142.7 390.5L143.2 377.9L143.7 403.1L144.2 390.5L144.7 403.1L145.2 403.1L145.7 390.5L146.2 403.1L146.7 403.1L147.2 373.9L147.7 377.9L148.2 373.9L148.7 390.5L149.2 367.8L149.7 383.2L150.2 390.5L150.7 403.1L151.2 383.2L151.7 377.9L152.2 383.2L152.7 383.2L153.2 373.9L153.7 370.6L154.2 403.1L154.7 390.5L155.2 403.1L155.7 383.2L156.2 367.8L156.7 377.9L157.2 377.9L157.7 383.2L158.2 390.5L158.7 403.1L159.2 403.1L159.7 390.5L160.2 390.5L160.7 383.2L161.2 383.2L161.7 390.5L162.2 383.2L162.7 377.9L163.2 390.5L163.7 383.2L164.2 377.9L164.7 403.1L165.2 390.5L165.7 383.2L166.2 403.1L166.7 403.1L167.2 373.9L167.7 373.9L168.2 390.5L168.7 403.1L169.2 390.5L169.7 403.1L170.2 403.1L170.7 403.1L171.2 370.6L171.7 367.8L172.2 383.2L172.7 383.2L173.2 390.5L173.7 403.1L174.2 377.9L174.7 390.5L175.2 383.2L175.7 390.5L176.2 377.9L176.7 377.9L177.2 403.1L177.7 403.1L178.2 403.1L178.7 390.5L179.2 403.1L179.7 377.9L180.2 373.9L180.7 390.5L181.2 390.5L181.7 383.2L182.2 403.1L182.7 403.1L183.2 390.5L183.7 377.9L184.2 373.9L184.7 370.6L185.2 390.5L185.7 383.2L186.2 383.2L186.7 383.2L187.2 367.8L187.7 373.9L188.2 403.1L188.7 403.1L189.2 373.9L189.7 390.5L190.2 373.9L190.7 403.1L191.2 377.9L191.7 383.2L192.2 370.6L192.7 377.9L193.2 390.5L193.7 390.5L194.2 403.1L194.7 403.1L195.2 383.2L195.7 390.5L196.2 377.9L196.7 377.9L197.2 377.9L197.7 403.1L198.2 403.1L198.7 390.5L199.2 390.5L199.7 390.5L200.2 377.9L200.7 370.6L201.2 403.1L201.7 390.5L202.2 377.9L202.7 390.5L203.2 403.1L203.7 383.2L204.2 373.9L204.7 403.1L205.2 403.1L205.7 383.2L206.2 390.5L206.7 390.5L207.2 403.1L207.7 403.1L208.2 373.9L208.7 403.1L209.2 390.5L209.7 390.5L210.2 383.2L210.7 367.8L211.2 403.1L211.7 373.9L212.2 403.1L212.7 377.9L213.2 403.1L213.7 403.1L214.2 373.9L214.7 403.1L215.2 383.2L215.7 383.2L216.2 390.5L216.7 403.1L217.2 377.9L217.7 390.5L218.2 390.5L218.7 403.1L219.2 390.5L219.7 383.2L220.2 403.1L220.7 373.9L221.2 390.5L221.7 373.9L222.2 377.9L222.7 377.9L223.2 390.5L223.7 403.1L224.2 373.9L224.7 373.9L225.2 403.1L225.7 377.9L226.2 403.1L226.7 383.2L227.2 403.1L227.7 383.2L228.2 383.2L228.7 403.1L229.2 383.2L229.7 377.9L230.2 390.5L230.7 403.1L231.2 383.2L231.7 383.2L232.2 377.9L232.7 383.2L233.2 403.1L233.7 390.5L234.2 390.5L234.7 403.1L235.2 377.9L235.7 390.5L236.2 403.1L236.7 390.5L237.2 383.2L237.7 377.9L238.2 377.9L238.7 403.1L239.2 390.5L239.7 390.5L240.2 377.9L240.7 403.1L241.2 383.2L241.7 377.9L242.2 377.9L242.7 390.5L243.2 373.9L243.7 403.1L244.2 377.9L244.7 383.2L245.2 383.2L245.7 383.2L246.2 377.9L246.7 390.5L247.2 390.5L247.7 377.9L248.2 377.9L248.7 403.1L249.2 390.5L249.7 377.9L250.2 390.5L250.7 383.2L251.2 403.1L251.7 403.1L252.2 383.2L252.7 390.5L253.2 403.1L253.7 403.1L254.2 390.5L254.7 390.5L255.2 403.1L255.7 383.2L256.2 403.1L256.7 403.1L257.2 390.5L257.7 403.1L258.2 383.2L258.7 390.5L259.2 383.2L259.7 373.9L260.2 383.2" stroke="#1ef01e" stroke-width="1.3" fill="none"/><path clip-path="url(#cc)" d="M71.5 235.9L71.7 242.0L72.0 254.6L72.3 264.5L72.7 274.9L73.0 279.4L73.3 283.2L73.7 287.3L74.0 290.9L74.3 297.8L74.7 302.0L75.0 308.5L75.3 311.7L75.7 309.0L76.0 312.6L76.3 313.0L76.7 316.3L77.0 317.9L77.3 319.3L77.7 320.4L78.0 323.1L78.3 317.3L78.7 323.3L79.0 321.4L79.3 328.8L79.7 327.6L80.0 325.7L80.3 328.5L80.7 329.7L81.0 328.5L81.3 334.8L81.7 330.4L82.0 336.6L82.3 338.6L82.7 342.0L83.0 340.8L83.3 348.7L83.7 348.7L84.0 350.6L84.3 355.2L84.7 355.2L85.0 359.6L85.3 344.7L85.7 347.8L86.0 351.7L86.3 353.9L86.7 353.9L87.0 361.3L87.3 361.3L87.7 358.0L88.0 361.3L88.3 358.0L88.7 370.6L89.0 359.6L89.3 363.2L89.7 361.3L90.0 355.2L90.3 367.8L90.7 361.3L91.0 361.3L91.3 358.0L91.7 352.8L92.0 370.6L92.3 359.6L92.7 358.0L93.0 367.8L93.3 356.5L93.7 355.2L94.0 367.8L94.3 359.6L94.7 361.3L95.0 361.3L95.3 359.6L95.7 356.5L96.0 367.8L96.3 355.2L96.7 363.2L97.0 355.2L97.3 367.8L97.7 358.0L98.0 370.6L98.3 359.6L98.7 356.5L99.0 356.5L99.3 361.3L99.7 359.6L100.0 361.3L100.3 361.3L100.7 358.0L101.0 359.6L101.3 355.2L101.7 358.0L102.0 363.2L102.3 361.3L102.7 367.8L103.0 367.8L103.3 363.2L103.7 359.6L104.0 373.9L104.3 367.8L104.7 373.9L105.0 355.2L105.3 361.3L105.7 356.5L106.0 363.2L106.3 356.5L106.7 367.8L107.0 356.5L107.3 359.6L107.7 363.2L108.0 365.4L108.3 373.9L108.7 356.5L109.0 367.8L109.3 373.9L109.7 361.3L110.0 361.3L110.3 370.6L110.7 361.3L111.0 365.4L111.3 361.3L111.7 355.2L112.0 365.4L112.3 367.8L112.7 363.2L113.0 358.0L113.3 367.8L113.7 367.8L114.0 367.8L114.3 355.2L114.7 358.0L115.0 363.2L115.3 367.8L115.7 356.5L116.0 367.8L116.3 358.0L116.7 367.8L117.0 353.9L117.3 373.9L117.7 356.5L118.0 358.0L118.3 370.6L118.7 358.0L119.0 361.3L119.3 367.8L119.7 363.2L120.0 370.6L120.3 361.3L120.7 363.2L121.0 355.2L121.3 363.2L121.7 358.0L122.0 365.4L122.3 359.6L122.7 363.2L123.0 359.6L123.3 356.5L123.7 353.9L124.0 358.0L124.3 358.0L124.7 367.8L125.0 367.8L125.3 358.0L125.7 365.4L126.0 361.3L126.3 359.6L126.7 361.3L127.0 367.8L127.3 367.8L127.7 370.6L128.0 365.4L128.3 363.2L128.7 353.9L129.0 361.3L129.3 359.6L129.7 373.9L130.0 370.6L130.3 373.9L130.7 359.6L131.0 355.2L131.3 373.9L131.7 363.2L132.0 370.6L132.3 356.5L132.7 365.4L133.0 370.6L133.3 365.4L133.7 367.8L134.0 363.2L134.3 365.4L134.7 359.6L135.0 365.4L135.3 365.4L135.7 365.4L136.0 367.8L136.3 365.4L136.7 359.6L137.0 356.5L137.3 359.6L137.7 367.8L138.0 358.0L138.3 359.6L138.7 367.8L139.0 356.5L139.3 377.9L139.7 359.6L140.0 367.8L140.3 365.4L140.7 383.2L141.0 361.3L141.3 359.6L141.7 383.2L142.0 361.3L142.3 359.6L142.7 363.2L143.0 365.4L143.3 361.3L143.7 361.3L144.0 367.8L144.3 383.2L144.7 355.2L145.0 365.4L145.3 356.5L145.7 359.6L146.0 361.3L146.3 365.4L146.7 363.2L147.0 363.2L147.3 359.6L147.7 361.3L148.0 353.9L148.3 359.6L148.7 367.8L149.0 365.4L149.3 367.8L149.7 370.6L150.0 361.3L150.3 365.4L150.7 367.8L151.0 359.6L151.3 358.0L151.7 367.8L152.0 373.9L152.3 361.3L152.7 361.3L153.0 359.6L153.3 359.6L153.7 363.2L154.0 363.2L154.3 367.8L154.7 359.6L155.0 390.5L155.3 361.3L155.7 359.6L156.0 373.9L156.3 363.2L156.7 365.4L157.0 367.8L157.3 367.8L157.7 367.8L158.0 377.9L158.3 365.4L158.7 359.6L159.0 361.3L159.3 370.6L159.7 370.6L160.0 361.3L160.3 363.2L160.7 373.9L161.0 359.6L161.3 370.6L161.7 365.4L162.0 365.4L162.3 365.4L162.7 365.4L163.0 363.2L163.3 373.9L163.7 377.9L164.0 373.9L164.3 359.6L164.7 365.4L165.0 365.4L165.3 363.2L165.7 365.4L166.0 361.3L166.3 373.9L166.7 370.6L167.0 363.2L167.3 361.3L167.7 377.9L168.0 365.4L168.3 363.2L168.7 358.0L169.0 359.6L169.3 361.3L169.7 359.6L170.0 361.3L170.3 373.9L170.7 377.9L171.0 367.8L171.3 365.4L171.7 361.3L172.0 367.8L172.3 359.6L172.7 363.2L173.0 355.2L173.3 361.3L173.7 356.5L174.0 356.5L174.3 373.9L174.7 377.9L175.0 365.4L175.3 367.8L175.7 370.6L176.0 370.6L176.3 367.8L176.7 361.3L177.0 377.9L177.3 359.6L177.7 373.9L178.0 377.9L178.3 367.8L178.7 383.2L179.0 370.6L179.3 365.4L179.7 361.3L180.0 363.2L180.3 367.8L180.7 363.2L181.0 363.2L181.3 361.3L181.7 377.9L182.0 370.6L182.3 363.2L182.7 361.3L183.0 365.4L183.3 370.6L183.7 370.6L184.0 373.9L184.3 370.6L184.7 365.4L185.0 370.6L185.3 365.4L185.7 383.2L186.0 370.6L186.3 363.2L186.7 370.6L187.0 359.6L187.3 365.4L187.7 361.3L188.0 377.9L188.3 365.4L188.7 370.6L189.0 403.1L189.3 363.2L189.7 383.2L190.0 370.6L190.3 365.4L190.7 370.6L191.0 367.8L191.3 361.3L191.7 367.8L192.0 367.8L192.3 390.5L192.7 377.9L193.0 370.6L193.3 367.8L193.7 365.4L194.0 365.4L194.3 358.0L194.7 365.4L195.0 361.3L195.3 359.6L195.7 370.6L196.0 373.9L196.3 367.8L196.7 363.2L197.0 363.2L197.3 373.9L197.7 365.4L198.0 370.6L198.3 370.6L198.7 365.4L199.0 367.8L199.3 367.8L199.7 370.6L200.0 367.8L200.3 363.2L200.7 363.2L201.0 355.2L201.3 383.2L201.7 383.2L202.0 361.3L202.3 363.2L202.7 370.6L203.0 365.4L203.3 373.9L203.7 377.9L204.0 365.4L204.3 370.6L204.7 358.0L205.0 370.6L205.3 377.9L205.7 363.2L206.0 370.6L206.3 365.4L206.7 373.9L207.0 383.2L207.3 370.6L207.7 403.1L208.0 377.9L208.3 370.6L208.7 377.9L209.0 373.9L209.3 363.2L209.7 367.8L210.0 370.6L210.3 367.8L210.7 373.9L211.0 370.6L211.3 370.6L211.7 361.3L212.0 383.2L212.3 377.9L212.7 373.9L213.0 367.8L213.3 370.6L213.7 365.4L214.0 363.2L214.3 356.5L214.7 370.6L215.0 359.6L215.3 373.9L215.7 363.2L216.0 367.8L216.3 365.4L216.7 373.9L217.0 370.6L217.3 373.9L217.7 359.6L218.0 373.9L218.3 365.4L218.7 359.6L219.0 370.6L219.3 365.4L219.7 370.6L220.0 373.9L220.3 363.2L220.7 383.2L221.0 370.6L221.3 370.6L221.7 370.6L222.0 361.3L222.3 403.1L222.7 367.8L223.0 365.4L223.3 370.6L223.7 377.9L224.0 367.8L224.3 390.5L224.7 370.6L225.0 355.2L225.3 367.8L225.7 403.1L226.0 383.2L226.3 373.9L226.7 373.9L227.0 367.8L227.3 367.8L227.7 359.6L228.0 365.4L228.3 367.8L228.7 365.4L229.0 373.9L229.3 373.9L229.7 373.9L230.0 365.4L230.3 370.6L230.7 365.4L231.0 390.5L231.3 377.9L231.7 370.6L232.0 367.8L232.3 370.6L232.7 358.0L233.0 373.9L233.3 365.4L233.7 370.6L234.0 390.5L234.3 361.3L234.7 373.9L235.0 377.9L235.3 361.3L235.7 390.5L236.0 390.5L236.3 367.8L236.7 377.9L237.0 383.2L237.3 390.5L237.7 373.9L238.0 390.5L238.3 373.9L238.7 367.8L239.0 383.2L239.3 377.9L239.7 363.2L240.0 370.6L240.3 373.9L240.7 361.3L241.0 390.5L241.3 377.9L241.7 377.9L242.0 367.8L242.3 365.4L242.7 383.2L243.0 383.2L243.3 361.3L243.7 365.4L244.0 377.9L244.3 370.6L244.7 383.2L245.0 359.6L245.3 370.6L245.7 370.6L246.0 377.9L246.3 390.5L246.7 377.9L247.0 373.9L247.3 367.8L247.7 383.2L248.0 383.2L248.3 373.9L248.7 370.6L249.0 367.8L249.3 377.9L249.7 367.8L250.0 403.1L250.3 365.4L250.7 367.8L251.0 367.8L251.3 370.6L251.7 377.9L252.0 373.9L252.3 377.9L252.7 390.5L253.0 365.4L253.3 383.2L253.7 373.9L254.0 367.8L254.3 367.8L254.7 367.8L255.0 390.5L255.3 383.2L255.7 390.5L256.0 365.4L256.3 377.9L256.7 359.6L257.0 370.6L257.3 373.9L257.7 373.9L258.0 365.4L258.3 363.2L258.7 363.2L259.0 373.9L259.3 373.9L259.7 390.5L260.0 365.4" stroke="#ffe812" stroke-width="1.3" fill="none"/><path clip-path="url(#cc)" d="M71.5 235.9L71.7 242.1L72.0 254.0L72.3 263.5L72.7 274.1L73.0 279.8L73.3 283.7L73.7 286.4L74.0 290.1L74.3 295.3L74.7 296.2L75.0 299.7L75.3 300.4L75.7 303.2L76.0 306.6L76.3 307.1L76.7 307.5L77.0 309.8L77.3 312.3L77.7 310.1L78.0 310.0L78.3 314.3L78.7 314.9L79.0 311.8L79.3 313.7L79.7 315.2L80.0 317.4L80.3 317.1L80.7 319.9L81.0 319.1L81.3 317.4L81.7 317.0L82.0 320.1L82.3 323.3L82.7 318.1L83.0 319.1L83.3 322.0L83.7 320.4L84.0 321.8L84.3 324.7L84.7 327.9L85.0 324.2L85.3 324.7L85.7 327.6L86.0 321.0L86.3 323.8L86.7 327.9L87.0 328.2L87.3 330.0L87.7 327.9L88.0 327.6L88.3 330.4L88.7 327.6L89.0 331.4L89.3 329.4L89.7 334.0L90.0 329.4L90.3 331.4L90.7 329.1L91.0 332.4L91.3 330.7L91.7 331.0L92.0 330.4L92.3 334.0L92.7 333.6L93.0 334.0L93.3 333.2L93.7 336.6L94.0 342.0L94.3 335.2L94.7 335.7L95.0 332.1L95.3 336.1L95.7 333.6L96.0 333.2L96.3 329.7L96.7 345.4L97.0 333.6L97.3 335.2L97.7 332.8L98.0 338.0L98.3 334.8L98.7 339.6L99.0 338.6L99.3 337.5L99.7 334.0L100.0 336.1L100.3 342.6L100.7 337.5L101.0 335.7L101.3 338.0L101.7 342.0L102.0 338.6L102.3 334.8L102.7 348.7L103.0 337.5L103.3 338.6L103.7 336.1L104.0 335.7L104.3 335.7L104.7 342.6L105.0 337.5L105.3 336.6L105.7 337.5L106.0 341.4L106.3 338.6L106.7 342.0L107.0 343.3L107.3 341.4L107.7 338.6L108.0 339.6L108.3 342.6L108.7 339.1L109.0 342.0L109.3 343.3L109.7 342.0L110.0 344.0L110.3 342.6L110.7 343.3L111.0 344.7L111.3 337.5L111.7 340.2L112.0 336.1L112.3 344.0L112.7 343.3L113.0 344.0L113.3 341.4L113.7 338.0L114.0 342.6L114.3 334.8L114.7 342.0L115.0 339.6L115.3 345.4L115.7 344.7L116.0 344.7L116.3 346.2L116.7 351.7L117.0 344.7L117.3 348.7L117.7 344.7L118.0 340.8L118.3 344.0L118.7 347.8L119.0 340.2L119.3 344.0L119.7 345.4L120.0 345.4L120.3 347.8L120.7 344.7L121.0 345.4L121.3 347.0L121.7 342.6L122.0 347.0L122.3 345.4L122.7 344.7L123.0 349.6L123.3 350.6L123.7 355.2L124.0 345.4L124.3 347.8L124.7 348.7L125.0 348.7L125.3 348.7L125.7 346.2L126.0 346.2L126.3 351.7L126.7 350.6L127.0 351.7L127.3 353.9L127.7 347.0L128.0 353.9L128.3 351.7L128.7 347.8L129.0 353.9L129.3 347.8L129.7 351.7L130.0 350.6L130.3 349.6L130.7 347.8L131.0 350.6L131.3 351.7L131.7 342.6L132.0 349.6L132.3 344.7L132.7 348.7L133.0 348.7L133.3 350.6L133.7 350.6L134.0 349.6L134.3 351.7L134.7 351.7L135.0 356.5L135.3 349.6L135.7 352.8L136.0 353.9L136.3 361.3L136.7 352.8L137.0 352.8L137.3 355.2L137.7 348.7L138.0 347.0L138.3 355.2L138.7 351.7L139.0 349.6L139.3 350.6L139.7 347.0L140.0 355.2L140.3 348.7L140.7 367.8L141.0 363.2L141.3 346.2L141.7 355.2L142.0 353.9L142.3 353.9L142.7 359.6L143.0 355.2L143.3 350.6L143.7 358.0L144.0 349.6L144.3 359.6L144.7 352.8L145.0 347.8L145.3 349.6L145.7 356.5L146.0 352.8L146.3 352.8L146.7 361.3L147.0 356.5L147.3 353.9L147.7 350.6L148.0 353.9L148.3 349.6L148.7 352.8L149.0 359.6L149.3 351.7L149.7 352.8L150.0 347.8L150.3 358.0L150.7 352.8L151.0 353.9L151.3 351.7L151.7 367.8L152.0 359.6L152.3 359.6L152.7 358.0L153.0 350.6L153.3 359.6L153.7 356.5L154.0 358.0L154.3 356.5L154.7 350.6L155.0 356.5L155.3 356.5L155.7 352.8L156.0 355.2L156.3 356.5L156.7 356.5L157.0 359.6L157.3 348.7L157.7 361.3L158.0 358.0L158.3 355.2L158.7 363.2L159.0 356.5L159.3 355.2L159.7 356.5L160.0 365.4L160.3 356.5L160.7 365.4L161.0 359.6L161.3 352.8L161.7 352.8L162.0 350.6L162.3 359.6L162.7 367.8L163.0 370.6L163.3 358.0L163.7 352.8L164.0 367.8L164.3 365.4L164.7 358.0L165.0 358.0L165.3 363.2L165.7 349.6L166.0 358.0L166.3 348.7L166.7 361.3L167.0 356.5L167.3 359.6L167.7 353.9L168.0 365.4L168.3 359.6L168.7 358.0L169.0 359.6L169.3 355.2L169.7 359.6L170.0 355.2L170.3 355.2L170.7 359.6L171.0 355.2L171.3 370.6L171.7 356.5L172.0 370.6L172.3 352.8L172.7 358.0L173.0 352.8L173.3 355.2L173.7 359.6L174.0 355.2L174.3 367.8L174.7 363.2L175.0 356.5L175.3 365.4L175.7 363.2L176.0 358.0L176.3 355.2L176.7 365.4L177.0 355.2L177.3 361.3L177.7 363.2L178.0 351.7L178.3 359.6L178.7 358.0L179.0 363.2L179.3 367.8L179.7 356.5L180.0 373.9L180.3 356.5L180.7 359.6L181.0 358.0L181.3 367.8L181.7 361.3L182.0 358.0L182.3 365.4L182.7 359.6L183.0 358.0L183.3 367.8L183.7 358.0L184.0 356.5L184.3 365.4L184.7 363.2L185.0 358.0L185.3 367.8L185.7 358.0L186.0 365.4L186.3 370.6L186.7 358.0L187.0 359.6L187.3 361.3L187.7 363.2L188.0 363.2L188.3 352.8L188.7 358.0L189.0 370.6L189.3 363.2L189.7 373.9L190.0 363.2L190.3 367.8L190.7 358.0L191.0 359.6L191.3 356.5L191.7 370.6L192.0 367.8L192.3 363.2L192.7 361.3L193.0 363.2L193.3 370.6L193.7 365.4L194.0 361.3L194.3 355.2L194.7 361.3L195.0 390.5L195.3 363.2L195.7 365.4L196.0 367.8L196.3 361.3L196.7 358.0L197.0 370.6L197.3 358.0L197.7 358.0L198.0 365.4L198.3 367.8L198.7 370.6L199.0 363.2L199.3 365.4L199.7 356.5L200.0 370.6L200.3 365.4L200.7 367.8L201.0 383.2L201.3 373.9L201.7 370.6L202.0 359.6L202.3 363.2L202.7 365.4L203.0 365.4L203.3 370.6L203.7 365.4L204.0 361.3L204.3 367.8L204.7 367.8L205.0 363.2L205.3 370.6L205.7 356.5L206.0 373.9L206.3 359.6L206.7 363.2L207.0 365.4L207.3 390.5L207.7 361.3L208.0 363.2L208.3 365.4L208.7 361.3L209.0 358.0L209.3 358.0L209.7 370.6L210.0 377.9L210.3 370.6L210.7 356.5L211.0 365.4L211.3 367.8L211.7 359.6L212.0 361.3L212.3 383.2L212.7 377.9L213.0 363.2L213.3 373.9L213.7 359.6L214.0 361.3L214.3 356.5L214.7 359.6L215.0 367.8L215.3 370.6L215.7 383.2L216.0 377.9L216.3 361.3L216.7 377.9L217.0 363.2L217.3 383.2L217.7 367.8L218.0 373.9L218.3 370.6L218.7 367.8L219.0 361.3L219.3 367.8L219.7 373.9L220.0 373.9L220.3 358.0L220.7 363.2L221.0 361.3L221.3 367.8L221.7 367.8L222.0 356.5L222.3 355.2L222.7 370.6L223.0 361.3L223.3 373.9L223.7 370.6L224.0 361.3L224.3 361.3L224.7 365.4L225.0 377.9L225.3 383.2L225.7 363.2L226.0 361.3L226.3 370.6L226.7 373.9L227.0 367.8L227.3 365.4L227.7 390.5L228.0 365.4L228.3 352.8L228.7 363.2L229.0 367.8L229.3 363.2L229.7 365.4L230.0 370.6L230.3 365.4L230.7 367.8L231.0 373.9L231.3 363.2L231.7 370.6L232.0 373.9L232.3 370.6L232.7 365.4L233.0 363.2L233.3 403.1L233.7 383.2L234.0 370.6L234.3 363.2L234.7 365.4L235.0 370.6L235.3 365.4L235.7 373.9L236.0 358.0L236.3 365.4L236.7 358.0L237.0 377.9L237.3 358.0L237.7 367.8L238.0 365.4L238.3 373.9L238.7 365.4L239.0 361.3L239.3 383.2L239.7 367.8L240.0 367.8L240.3 363.2L240.7 363.2L241.0 367.8L241.3 377.9L241.7 367.8L242.0 365.4L242.3 363.2L242.7 363.2L243.0 365.4L243.3 361.3L243.7 377.9L244.0 377.9L244.3 361.3L244.7 383.2L245.0 377.9L245.3 377.9L245.7 390.5L246.0 365.4L246.3 370.6L246.7 363.2L247.0 365.4L247.3 367.8L247.7 373.9L248.0 377.9L248.3 359.6L248.7 367.8L249.0 373.9L249.3 377.9L249.7 377.9L250.0 365.4L250.3 365.4L250.7 365.4L251.0 370.6L251.3 370.6L251.7 373.9L252.0 367.8L252.3 363.2L252.7 383.2L253.0 367.8L253.3 373.9L253.7 370.6L254.0 370.6L254.3 367.8L254.7 403.1L255.0 361.3L255.3 370.6L255.7 373.9L256.0 365.4L256.3 359.6L256.7 370.6L257.0 373.9L257.3 370.6L257.7 359.6L258.0 370.6L258.3 370.6L258.7 363.2L259.0 373.9L259.3 383.2L259.7 370.6L260.0 361.3" stroke="#ff7a1e" stroke-width="1.3" fill="none"/><path clip-path="url(#cc)" d="M71.5 235.9L71.7 242.5L72.0 253.7L72.3 264.2L72.7 274.1L73.0 280.7L73.3 284.0L73.7 286.6L74.0 289.6L74.3 291.7L74.7 293.0L75.0 293.5L75.3 295.0L75.7 295.3L76.0 295.6L76.3 297.1L76.7 298.0L77.0 299.2L77.3 298.6L77.7 300.2L78.0 301.5L78.3 300.7L78.7 302.7L79.0 301.4L79.3 301.4L79.7 303.8L80.0 303.8L80.3 306.0L80.7 307.1L81.0 304.5L81.3 306.5L81.7 304.9L82.0 310.3L82.3 309.1L82.7 307.8L83.0 311.4L83.3 308.4L83.7 312.3L84.0 313.7L84.3 313.3L84.7 310.0L85.0 312.1L85.3 315.4L85.7 315.9L86.0 314.2L86.3 314.6L86.7 314.7L87.0 313.7L87.3 321.0L87.7 318.1L88.0 315.9L88.3 315.9L88.7 317.9L89.0 319.5L89.3 319.7L89.7 318.1L90.0 317.9L90.3 325.2L90.7 322.0L91.0 322.7L91.3 323.8L91.7 321.6L92.0 321.2L92.3 324.2L92.7 322.2L93.0 321.4L93.3 324.5L93.7 323.1L94.0 322.5L94.3 322.9L94.7 324.7L95.0 326.0L95.3 319.1L95.7 323.8L96.0 330.0L96.3 328.8L96.7 326.8L97.0 327.0L97.3 325.2L97.7 324.2L98.0 330.4L98.3 328.5L98.7 327.6L99.0 324.7L99.3 329.1L99.7 329.1L100.0 329.4L100.3 328.8L100.7 331.0L101.0 333.6L101.3 328.2L101.7 331.4L102.0 331.4L102.3 333.2L102.7 335.2L103.0 332.8L103.3 330.7L103.7 330.4L104.0 331.7L104.3 335.7L104.7 337.5L105.0 335.2L105.3 333.2L105.7 333.2L106.0 336.1L106.3 338.0L106.7 339.1L107.0 334.0L107.3 338.0L107.7 332.1L108.0 340.2L108.3 333.6L108.7 336.6L109.0 339.1L109.3 337.5L109.7 339.6L110.0 340.2L110.3 333.2L110.7 342.6L111.0 336.1L111.3 339.6L111.7 338.0L112.0 339.1L112.3 344.7L112.7 340.8L113.0 342.6L113.3 335.7L113.7 344.7L114.0 343.3L114.3 343.3L114.7 339.6L115.0 340.2L115.3 342.0L115.7 336.1L116.0 342.0L116.3 340.2L116.7 342.0L117.0 346.2L117.3 340.2L117.7 340.8L118.0 337.5L118.3 347.0L118.7 345.4L119.0 342.6L119.3 341.4L119.7 341.4L120.0 347.0L120.3 340.2L120.7 339.6L121.0 342.0L121.3 342.0L121.7 343.3L122.0 344.0L122.3 341.4L122.7 340.8L123.0 344.7L123.3 343.3L123.7 342.6L124.0 347.8L124.3 345.4L124.7 343.3L125.0 339.6L125.3 342.0L125.7 355.2L126.0 341.4L126.3 353.9L126.7 346.2L127.0 345.4L127.3 343.3L127.7 349.6L128.0 349.6L128.3 346.2L128.7 349.6L129.0 351.7L129.3 351.7L129.7 347.8L130.0 346.2L130.3 345.4L130.7 350.6L131.0 363.2L131.3 353.9L131.7 345.4L132.0 355.2L132.3 350.6L132.7 347.0L133.0 349.6L133.3 353.9L133.7 344.7L134.0 359.6L134.3 358.0L134.7 355.2L135.0 349.6L135.3 352.8L135.7 359.6L136.0 359.6L136.3 353.9L136.7 347.0L137.0 347.0L137.3 353.9L137.7 350.6L138.0 350.6L138.3 350.6L138.7 352.8L139.0 367.8L139.3 367.8L139.7 356.5L140.0 363.2L140.3 358.0L140.7 353.9L141.0 358.0L141.3 365.4L141.7 352.8L142.0 358.0L142.3 361.3L142.7 352.8L143.0 355.2L143.3 352.8L143.7 361.3L144.0 352.8L144.3 363.2L144.7 356.5L145.0 352.8L145.3 365.4L145.7 356.5L146.0 365.4L146.3 355.2L146.7 363.2L147.0 355.2L147.3 365.4L147.7 356.5L148.0 361.3L148.3 367.8L148.7 370.6L149.0 377.9L149.3 350.6L149.7 373.9L150.0 361.3L150.3 363.2L150.7 367.8L151.0 367.8L151.3 353.9L151.7 352.8L152.0 365.4L152.3 373.9L152.7 359.6L153.0 365.4L153.3 367.8L153.7 363.2L154.0 373.9L154.3 359.6L154.7 355.2L155.0 355.2L155.3 355.2L155.7 363.2L156.0 370.6L156.3 359.6L156.7 367.8L157.0 359.6L157.3 363.2L157.7 365.4L158.0 365.4L158.3 365.4L158.7 383.2L159.0 365.4L159.3 367.8L159.7 361.3L160.0 373.9L160.3 363.2L160.7 365.4L161.0 367.8L161.3 367.8L161.7 361.3L162.0 365.4L162.3 367.8L162.7 370.6L163.0 359.6L163.3 365.4L163.7 367.8L164.0 373.9L164.3 373.9L164.7 367.8L165.0 361.3L165.3 370.6L165.7 383.2L166.0 377.9L166.3 370.6L166.7 377.9L167.0 377.9L167.3 377.9L167.7 370.6L168.0 367.8L168.3 377.9L168.7 383.2L169.0 377.9L169.3 365.4L169.7 367.8L170.0 370.6L170.3 365.4L170.7 365.4L171.0 367.8L171.3 367.8L171.7 365.4L172.0 373.9L172.3 370.6L172.7 367.8L173.0 370.6L173.3 373.9L173.7 365.4L174.0 373.9L174.3 373.9L174.7 370.6L175.0 365.4L175.3 370.6L175.7 370.6L176.0 367.8L176.3 377.9L176.7 383.2L177.0 377.9L177.3 367.8L177.7 373.9L178.0 383.2L178.3 370.6L178.7 377.9L179.0 367.8L179.3 367.8L179.7 367.8L180.0 358.0L180.3 377.9L180.7 383.2L181.0 370.6L181.3 365.4L181.7 373.9L182.0 377.9L182.3 383.2L182.7 373.9L183.0 370.6L183.3 390.5L183.7 390.5L184.0 373.9L184.3 377.9L184.7 377.9L185.0 361.3L185.3 383.2L185.7 370.6L186.0 367.8L186.3 373.9L186.7 367.8L187.0 370.6L187.3 363.2L187.7 377.9L188.0 383.2L188.3 367.8L188.7 370.6L189.0 365.4L189.3 365.4L189.7 383.2L190.0 373.9L190.3 367.8L190.7 383.2L191.0 383.2L191.3 377.9L191.7 383.2L192.0 390.5L192.3 377.9L192.7 377.9L193.0 390.5L193.3 403.1L193.7 370.6L194.0 377.9L194.3 383.2L194.7 383.2L195.0 377.9L195.3 377.9L195.7 365.4L196.0 377.9L196.3 390.5L196.7 390.5L197.0 370.6L197.3 383.2L197.7 377.9L198.0 383.2L198.3 377.9L198.7 373.9L199.0 370.6L199.3 373.9L199.7 361.3L200.0 377.9L200.3 373.9L200.7 367.8L201.0 377.9L201.3 377.9L201.7 383.2L202.0 367.8L202.3 373.9L202.7 383.2L203.0 390.5L203.3 403.1L203.7 373.9L204.0 383.2L204.3 370.6L204.7 377.9L205.0 377.9L205.3 370.6L205.7 383.2L206.0 373.9L206.3 373.9L206.7 367.8L207.0 365.4L207.3 370.6L207.7 377.9L208.0 403.1L208.3 365.4L208.7 377.9L209.0 403.1L209.3 390.5L209.7 403.1L210.0 367.8L210.3 373.9L210.7 390.5L211.0 373.9L211.3 377.9L211.7 377.9L212.0 377.9L212.3 383.2L212.7 370.6L213.0 370.6L213.3 403.1L213.7 390.5L214.0 377.9L214.3 377.9L214.7 390.5L215.0 370.6L215.3 367.8L215.7 390.5L216.0 373.9L216.3 403.1L216.7 383.2L217.0 403.1L217.3 377.9L217.7 403.1L218.0 367.8L218.3 390.5L218.7 365.4L219.0 383.2L219.3 403.1L219.7 403.1L220.0 377.9L220.3 373.9L220.7 390.5L221.0 377.9L221.3 367.8L221.7 373.9L222.0 373.9L222.3 377.9L222.7 377.9L223.0 373.9L223.3 370.6L223.7 370.6L224.0 383.2L224.3 403.1L224.7 373.9L225.0 403.1L225.3 403.1L225.7 383.2L226.0 383.2L226.3 373.9L226.7 383.2L227.0 403.1L227.3 390.5L227.7 365.4L228.0 403.1L228.3 370.6L228.7 383.2L229.0 383.2L229.3 373.9L229.7 383.2L230.0 363.2L230.3 373.9L230.7 403.1L231.0 383.2L231.3 403.1L231.7 373.9L232.0 367.8L232.3 377.9L232.7 403.1L233.0 383.2L233.3 377.9L233.7 365.4L234.0 377.9L234.3 390.5L234.7 383.2L235.0 383.2L235.3 390.5L235.7 390.5L236.0 365.4L236.3 377.9L236.7 383.2L237.0 383.2L237.3 377.9L237.7 377.9L238.0 377.9L238.3 403.1L238.7 373.9L239.0 383.2L239.3 377.9L239.7 377.9L240.0 373.9L240.3 377.9L240.7 383.2L241.0 403.1L241.3 390.5L241.7 363.2L242.0 383.2L242.3 390.5L242.7 383.2L243.0 373.9L243.3 370.6L243.7 377.9L244.0 390.5L244.3 390.5L244.7 390.5L245.0 370.6L245.3 373.9L245.7 383.2L246.0 377.9L246.3 403.1L246.7 370.6L247.0 377.9L247.3 403.1L247.7 390.5L248.0 403.1L248.3 383.2L248.7 377.9L249.0 390.5L249.3 383.2L249.7 377.9L250.0 383.2L250.3 403.1L250.7 367.8L251.0 373.9L251.3 383.2L251.7 383.2L252.0 383.2L252.3 390.5L252.7 403.1L253.0 367.8L253.3 377.9L253.7 390.5L254.0 373.9L254.3 383.2L254.7 377.9L255.0 383.2L255.3 390.5L255.7 373.9L256.0 373.9L256.3 373.9L256.7 403.1L257.0 403.1L257.3 377.9L257.7 383.2L258.0 373.9L258.3 373.9L258.7 377.9L259.0 390.5L259.3 373.9L259.7 377.9L260.0 377.9" stroke="#ff1414" stroke-width="1.3" fill="none"/><path d="M45.52 403.1V390.52" stroke="#2a8cf0" stroke-width="1.1"/><rect x="42.8" y="228.5" width="217.5" height="174.60000000000002" fill="none" stroke="#000" stroke-width="1.7"/><path d="M42.80 403.1v-3.5M97.17 403.1v-3.5M151.55 403.1v-3.5M205.92 403.1v-3.5M260.30 403.1v-3.5M69.99 403.1v-2.0M124.36 403.1v-2.0M178.74 403.1v-2.0M233.11 403.1v-2.0" stroke="#000" stroke-width="1.2" fill="none"/><path d="M42.8 403.10h3.5M42.8 361.30h3.5M42.8 319.50h3.5M42.8 277.70h3.5M42.8 235.90h3.5M42.8 390.52h2.0M42.8 383.16h2.0M42.8 377.93h2.0M42.8 373.88h2.0M42.8 370.57h2.0M42.8 367.77h2.0M42.8 365.35h2.0M42.8 363.21h2.0M42.8 348.72h2.0M42.8 341.36h2.0M42.8 336.13h2.0M42.8 332.08h2.0M42.8 328.77h2.0M42.8 325.97h2.0M42.8 323.55h2.0M42.8 321.41h2.0M42.8 306.92h2.0M42.8 299.56h2.0M42.8 294.33h2.0M42.8 290.28h2.0M42.8 286.97h2.0M42.8 284.17h2.0M42.8 281.75h2.0M42.8 279.61h2.0M42.8 265.12h2.0M42.8 257.76h2.0M42.8 252.53h2.0M42.8 248.48h2.0M42.8 245.17h2.0M42.8 242.37h2.0M42.8 239.95h2.0M42.8 237.81h2.0" stroke="#000" stroke-width="1.2" fill="none"/><text x="42.80" y="415.50" font-family="'Liberation Sans', Arial, sans-serif" font-size="10.3" font-weight="bold" text-anchor="middle" fill="#000">0.0</text><text x="97.17" y="415.50" font-family="'Liberation Sans', Arial, sans-serif" font-size="10.3" font-weight="bold" text-anchor="middle" fill="#000">0.2</text><text x="151.55" y="415.50" font-family="'Liberation Sans', Arial, sans-serif" font-size="10.3" font-weight="bold" text-anchor="middle" fill="#000">0.4</text><text x="205.92" y="415.50" font-family="'Liberation Sans', Arial, sans-serif" font-size="10.3" font-weight="bold" text-anchor="middle" fill="#000">0.6</text><text x="260.30" y="415.50" font-family="'Liberation Sans', Arial, sans-serif" font-size="10.3" font-weight="bold" text-anchor="middle" fill="#000">0.8</text><text x="35.40" y="407.00" font-family="'Liberation Sans', Arial, sans-serif" font-size="10" font-weight="bold" text-anchor="end" fill="#000">10</text><text x="35.50" y="402.70" font-family="'Liberation Sans', Arial, sans-serif" font-size="7" font-weight="bold" text-anchor="start" fill="#000">0</text><text x="35.40" y="365.20" font-family="'Liberation Sans', Arial, sans-serif" font-size="10" font-weight="bold" text-anchor="end" fill="#000">10</text><text x="35.50" y="360.90" font-family="'Liberation Sans', Arial, sans-serif" font-size="7" font-weight="bold" text-anchor="start" fill="#000">1</text><text x="35.40" y="323.40" font-family="'Liberation Sans', Arial, sans-serif" font-size="10" font-weight="bold" text-anchor="end" fill="#000">10</text><text x="35.50" y="319.10" font-family="'Liberation Sans', Arial, sans-serif" font-size="7" font-weight="bold" text-anchor="start" fill="#000">2</text><text x="35.40" y="281.60" font-family="'Liberation Sans', Arial, sans-serif" font-size="10" font-weight="bold" text-anchor="end" fill="#000">10</text><text x="35.50" y="277.30" font-family="'Liberation Sans', Arial, sans-serif" font-size="7" font-weight="bold" text-anchor="start" fill="#000">3</text><text x="35.40" y="239.80" font-family="'Liberation Sans', Arial, sans-serif" font-size="10" font-weight="bold" text-anchor="end" fill="#000">10</text><text x="35.50" y="235.50" font-family="'Liberation Sans', Arial, sans-serif" font-size="7" font-weight="bold" text-anchor="start" fill="#000">4</text><text x="6.00" y="236.80" font-family="'Liberation Sans', Arial, sans-serif" font-size="10" font-weight="bold" text-anchor="start" fill="#000">(c)</text><text x="152.00" y="432.00" font-family="'Liberation Sans', Arial, sans-serif" font-size="10" font-weight="bold" text-anchor="middle" fill="#000">Time (ms)</text><text transform="translate(14.0 315.7) rotate(-90)" font-family="'Liberation Sans', Arial, sans-serif" font-size="10" font-weight="bold" text-anchor="middle">PL intensity (a.u.)</text><path d="M188.1 240.10H214.2" stroke="#a020f0" stroke-width="1.5"/><text x="220.40" y="244.30" font-family="'Liberation Sans', Arial, sans-serif" font-size="9.6" font-weight="normal" text-anchor="start" fill="#000">80K</text><path d="M188.1 254.28H214.2" stroke="#3b1cf0" stroke-width="1.5"/><text x="220.40" y="258.48" font-family="'Liberation Sans', Arial, sans-serif" font-size="9.6" font-weight="normal" text-anchor="start" fill="#000">120K</text><path d="M188.1 268.46H214.2" stroke="#2a8cf0" stroke-width="1.5"/><text x="220.40" y="272.66" font-family="'Liberation Sans', Arial, sans-serif" font-size="9.6" font-weight="normal" text-anchor="start" fill="#000">160K</text><path d="M188.1 282.64H214.2" stroke="#1ef01e" stroke-width="1.5"/><text x="220.40" y="286.84" font-family="'Liberation Sans', Arial, sans-serif" font-size="9.6" font-weight="normal" text-anchor="start" fill="#000">200K</text><path d="M188.1 296.82H214.2" stroke="#ffe812" stroke-width="1.5"/><text x="220.40" y="301.02" font-family="'Liberation Sans', Arial, sans-serif" font-size="9.6" font-weight="normal" text-anchor="start" fill="#000">240K</text><path d="M188.1 311.00H214.2" stroke="#ff7a1e" stroke-width="1.5"/><text x="220.40" y="315.20" font-family="'Liberation Sans', Arial, sans-serif" font-size="9.6" font-weight="normal" text-anchor="start" fill="#000">280K</text><path d="M188.1 325.18H214.2" stroke="#ff1414" stroke-width="1.5"/><text x="220.40" y="329.38" font-family="'Liberation Sans', Arial, sans-serif" font-size="9.6" font-weight="normal" text-anchor="start" fill="#000">320K</text><path d="M458.8 315.3 C440 314 400 312.2 370 311.2 C364 311 358 311 354.5 310.2 C351 309 349.5 306.5 348.5 302 L343.1 276.3 C342 270 341.5 263 340.6 260.4 C340 261 339.8 262.4 339.3 262.3 C338.8 262.2 338.5 261 338.1 261.2 C337.5 261.6 337 262.5 336.8 263.7 C336.9 270 337.2 276 337.6 280 C338.5 290 340.5 302 343.5 313 C344.8 319 345.8 326 346.4 329 C346.8 332 347.1 334.2 347.6 334.2 C348.3 334 348.8 330 349.6 328 C350.5 325.5 352 323 354 320.8 C356.5 318.3 359.5 317 364 316.4 C368 316 372 316.2 380 316.4 C410 317.6 440 320.2 459.9 320.6" stroke="#333" stroke-width="1.35" fill="none" stroke-linejoin="round"/><path d="M459.6 311.6 C470 310.6 485 309.8 494 307.5 C499 305.5 502 299.5 505 298.5 C507.5 298 509 301 510.5 306 C513 314 515 321 518 326 C521 330 522.5 333 522.5 340 C522.5 342 521.5 343 520.5 343.6 C517 346 515.5 349.5 514 350 C512 350.5 511 347.5 509.5 343.5 C507.5 337 506 332 503 326 C500.5 321.5 497 320.3 490 319.8 C480 319 470 318.2 461.7 317.1 L459 315.5" stroke="#e82424" stroke-width="1.4" fill="none"/><rect x="320.1" y="228.4" width="217.29999999999995" height="174.70000000000002" fill="none" stroke="#000" stroke-width="1.7"/><path d="M335.70 403.1v-3.5M366.80 403.1v-3.5M397.90 403.1v-3.5M429.00 403.1v-3.5M460.10 403.1v-3.5M491.20 403.1v-3.5M522.30 403.1v-3.5M351.25 403.1v-2.0M382.35 403.1v-2.0M413.45 403.1v-2.0M444.55 403.1v-2.0M475.65 403.1v-2.0M506.75 403.1v-2.0" stroke="#000" stroke-width="1.2" fill="none"/><text x="335.70" y="416.10" font-family="'Liberation Sans', Arial, sans-serif" font-size="10.7" font-weight="bold" text-anchor="middle" fill="#000">-2.0</text><text x="366.80" y="416.10" font-family="'Liberation Sans', Arial, sans-serif" font-size="10.7" font-weight="bold" text-anchor="middle" fill="#000">-1.5</text><text x="397.90" y="416.10" font-family="'Liberation Sans', Arial, sans-serif" font-size="10.7" font-weight="bold" text-anchor="middle" fill="#000">-1.0</text><text x="429.00" y="416.10" font-family="'Liberation Sans', Arial, sans-serif" font-size="10.7" font-weight="bold" text-anchor="middle" fill="#000">-0.5</text><text x="460.10" y="416.10" font-family="'Liberation Sans', Arial, sans-serif" font-size="10.7" font-weight="bold" text-anchor="middle" fill="#000">0.0</text><text x="491.20" y="416.10" font-family="'Liberation Sans', Arial, sans-serif" font-size="10.7" font-weight="bold" text-anchor="middle" fill="#000">0.5</text><text x="522.30" y="416.10" font-family="'Liberation Sans', Arial, sans-serif" font-size="10.7" font-weight="bold" text-anchor="middle" fill="#000">1.0</text><text x="285.50" y="237.00" font-family="'Liberation Sans', Arial, sans-serif" font-size="10" font-weight="bold" text-anchor="start" fill="#000">(d)</text><text x="428.4" y="429" font-family="'Liberation Sans', Arial, sans-serif" font-size="10" font-weight="bold" text-anchor="middle">Potential <tspan font-style="italic">vs.</tspan> Fc/Fc<tspan font-size="7" dy="-4">+</tspan><tspan dy="4"> (V)</tspan></text><clipPath id="cd"><rect x="304.8" y="220" width="20" height="200"/></clipPath><g clip-path="url(#cd)"><text transform="translate(312.4 315.1) rotate(-90)" font-family="'Liberation Sans', Arial, sans-serif" font-size="10.1" font-weight="bold" text-anchor="middle">Current (a.u.)</text></g><text x="361.2" y="301.8" font-family="'Liberation Sans', Arial, sans-serif" font-size="9.65" fill="#111"><tspan font-style="italic">E</tspan><tspan font-size="9.2" dy="2.7">r</tspan><tspan dy="-2.7"> = –1.78 V</tspan></text><text x="445.8" y="337.9" font-family="'Liberation Sans', Arial, sans-serif" font-size="9.85" fill="#111"><tspan font-style="italic">E</tspan><tspan font-size="9.2" dy="2.7">o</tspan><tspan dy="-2.7"> = 0.67 V</tspan></text></svg></body></html>
